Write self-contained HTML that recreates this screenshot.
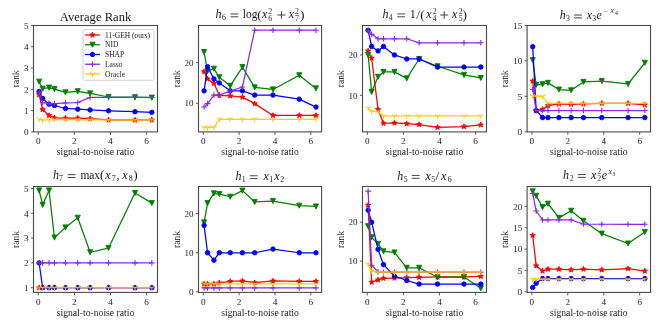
<!DOCTYPE html><html><head><meta charset="utf-8"><style>html,body{margin:0;padding:0;background:#fff;width:664px;height:332px;overflow:hidden}svg{display:block;will-change:transform;font-family:"Liberation Serif",serif;fill:#000}text{stroke:#fff;stroke-width:.06px}</style></head><body><svg width="664" height="332" viewBox="0 0 664 332"><rect width="664" height="332" fill="#fff"/><g><g><path d="M39.13 94.66 L42.64 109.56 L49.05 115.51 L54.46 117.86 L65.47 118.07 L77.75 118.07 L90.12 118.71 L108.54 119.98 L134.99 119.98 L151.83 119.98" stroke="#ff0000" stroke-width="1.25" fill="none" stroke-linejoin="round"/><polygon points="39.13,91.91 39.81,93.73 41.75,93.81 40.23,95.02 40.75,96.88 39.13,95.81 37.52,96.88 38.03,95.02 36.52,93.81 38.45,93.73" fill="#ff0000" stroke="#ff0000" stroke-width="0.9" stroke-linejoin="miter"/><polygon points="42.64,106.81 43.31,108.62 45.25,108.71 43.73,109.91 44.25,111.78 42.64,110.71 41.02,111.78 41.54,109.91 40.02,108.71 41.96,108.62" fill="#ff0000" stroke="#ff0000" stroke-width="0.9" stroke-linejoin="miter"/><polygon points="49.05,112.76 49.72,114.58 51.66,114.66 50.14,115.87 50.66,117.74 49.05,116.67 47.43,117.74 47.95,115.87 46.43,114.66 48.37,114.58" fill="#ff0000" stroke="#ff0000" stroke-width="0.9" stroke-linejoin="miter"/><polygon points="54.46,115.11 55.14,116.92 57.08,117.01 55.56,118.21 56.08,120.08 54.46,119.01 52.85,120.08 53.36,118.21 51.85,117.01 53.78,116.92" fill="#ff0000" stroke="#ff0000" stroke-width="0.9" stroke-linejoin="miter"/><polygon points="65.47,115.32 66.15,117.13 68.09,117.22 66.57,118.42 67.09,120.29 65.47,119.22 63.86,120.29 64.38,118.42 62.86,117.22 64.8,117.13" fill="#ff0000" stroke="#ff0000" stroke-width="0.9" stroke-linejoin="miter"/><polygon points="77.75,115.32 78.43,117.13 80.37,117.22 78.85,118.42 79.37,120.29 77.75,119.22 76.14,120.29 76.65,118.42 75.14,117.22 77.07,117.13" fill="#ff0000" stroke="#ff0000" stroke-width="0.9" stroke-linejoin="miter"/><polygon points="90.12,115.96 90.8,117.77 92.74,117.86 91.22,119.06 91.74,120.93 90.12,119.86 88.5,120.93 89.02,119.06 87.5,117.86 89.44,117.77" fill="#ff0000" stroke="#ff0000" stroke-width="0.9" stroke-linejoin="miter"/><polygon points="108.54,117.23 109.21,119.05 111.15,119.13 109.63,120.34 110.15,122.21 108.54,121.14 106.92,122.21 107.44,120.34 105.92,119.13 107.86,119.05" fill="#ff0000" stroke="#ff0000" stroke-width="0.9" stroke-linejoin="miter"/><polygon points="134.99,117.23 135.66,119.05 137.6,119.13 136.08,120.34 136.6,122.21 134.99,121.14 133.37,122.21 133.89,120.34 132.37,119.13 134.31,119.05" fill="#ff0000" stroke="#ff0000" stroke-width="0.9" stroke-linejoin="miter"/><polygon points="151.83,117.23 152.51,119.05 154.45,119.13 152.93,120.34 153.45,122.21 151.83,121.14 150.21,122.21 150.73,120.34 149.22,119.13 151.15,119.05" fill="#ff0000" stroke="#ff0000" stroke-width="0.9" stroke-linejoin="miter"/></g><g><path d="M39.13 81.68 L42.64 88.7 L49.05 87.64 L54.46 89.13 L65.47 92.32 L77.75 91.26 L90.12 93.38 L108.54 97 L134.99 97.21 L151.83 97.64" stroke="#008000" stroke-width="1.25" fill="none" stroke-linejoin="round"/><path d="M36.58 79.13H41.68L39.13 84.23Z" fill="#008000" stroke="#008000" stroke-width="0.9" stroke-linejoin="miter"/><path d="M40.09 86.15H45.19L42.64 91.25Z" fill="#008000" stroke="#008000" stroke-width="0.9" stroke-linejoin="miter"/><path d="M46.5 85.09H51.6L49.05 90.19Z" fill="#008000" stroke="#008000" stroke-width="0.9" stroke-linejoin="miter"/><path d="M51.91 86.58H57.01L54.46 91.68Z" fill="#008000" stroke="#008000" stroke-width="0.9" stroke-linejoin="miter"/><path d="M62.92 89.77H68.02L65.47 94.87Z" fill="#008000" stroke="#008000" stroke-width="0.9" stroke-linejoin="miter"/><path d="M75.2 88.71H80.3L77.75 93.81Z" fill="#008000" stroke="#008000" stroke-width="0.9" stroke-linejoin="miter"/><path d="M87.57 90.83H92.67L90.12 95.93Z" fill="#008000" stroke="#008000" stroke-width="0.9" stroke-linejoin="miter"/><path d="M105.99 94.45H111.09L108.54 99.55Z" fill="#008000" stroke="#008000" stroke-width="0.9" stroke-linejoin="miter"/><path d="M132.44 94.66H137.54L134.99 99.76Z" fill="#008000" stroke="#008000" stroke-width="0.9" stroke-linejoin="miter"/><path d="M149.28 95.09H154.38L151.83 100.19Z" fill="#008000" stroke="#008000" stroke-width="0.9" stroke-linejoin="miter"/></g><g><path d="M39.13 91.47 L42.64 98.49 L49.05 104.24 L54.46 105.51 L65.47 108.49 L77.75 109.13 L90.12 109.98 L108.54 110.83 L134.99 111.68 L151.83 112.32" stroke="#0000ff" stroke-width="1.25" fill="none" stroke-linejoin="round"/><circle cx="39.13" cy="91.47" r="2.25" fill="#0000ff" stroke="#0000ff" stroke-width="0.9"/><circle cx="42.64" cy="98.49" r="2.25" fill="#0000ff" stroke="#0000ff" stroke-width="0.9"/><circle cx="49.05" cy="104.24" r="2.25" fill="#0000ff" stroke="#0000ff" stroke-width="0.9"/><circle cx="54.46" cy="105.51" r="2.25" fill="#0000ff" stroke="#0000ff" stroke-width="0.9"/><circle cx="65.47" cy="108.49" r="2.25" fill="#0000ff" stroke="#0000ff" stroke-width="0.9"/><circle cx="77.75" cy="109.13" r="2.25" fill="#0000ff" stroke="#0000ff" stroke-width="0.9"/><circle cx="90.12" cy="109.98" r="2.25" fill="#0000ff" stroke="#0000ff" stroke-width="0.9"/><circle cx="108.54" cy="110.83" r="2.25" fill="#0000ff" stroke="#0000ff" stroke-width="0.9"/><circle cx="134.99" cy="111.68" r="2.25" fill="#0000ff" stroke="#0000ff" stroke-width="0.9"/><circle cx="151.83" cy="112.32" r="2.25" fill="#0000ff" stroke="#0000ff" stroke-width="0.9"/></g><g><path d="M39.13 92.11 L42.64 102.53 L49.05 103.6 L54.46 103.6 L65.47 102.96 L77.75 102.53 L90.12 97.43 L108.54 97.43 L134.99 97.43 L151.83 97.43" stroke="#8a2be2" stroke-width="1.25" fill="none" stroke-linejoin="round"/><path d="M36.33 92.11H41.93M39.13 89.31V94.91" stroke="#8a2be2" stroke-width="1.1" fill="none"/><path d="M39.84 102.53H45.44M42.64 99.73V105.33" stroke="#8a2be2" stroke-width="1.1" fill="none"/><path d="M46.25 103.6H51.85M49.05 100.8V106.4" stroke="#8a2be2" stroke-width="1.1" fill="none"/><path d="M51.66 103.6H57.26M54.46 100.8V106.4" stroke="#8a2be2" stroke-width="1.1" fill="none"/><path d="M62.67 102.96H68.27M65.47 100.16V105.76" stroke="#8a2be2" stroke-width="1.1" fill="none"/><path d="M74.95 102.53H80.55M77.75 99.73V105.33" stroke="#8a2be2" stroke-width="1.1" fill="none"/><path d="M87.32 97.43H92.92M90.12 94.63V100.23" stroke="#8a2be2" stroke-width="1.1" fill="none"/><path d="M105.74 97.43H111.34M108.54 94.63V100.23" stroke="#8a2be2" stroke-width="1.1" fill="none"/><path d="M132.19 97.43H137.79M134.99 94.63V100.23" stroke="#8a2be2" stroke-width="1.1" fill="none"/><path d="M149.03 97.43H154.63M151.83 94.63V100.23" stroke="#8a2be2" stroke-width="1.1" fill="none"/></g><g opacity="0.9"><path d="M39.13 119.13 L42.64 120.2 L49.05 119.98 L54.46 119.56 L65.47 119.56 L77.75 119.56 L90.12 119.77 L108.54 119.98 L134.99 119.98 L151.83 119.98" stroke="#ffc800" stroke-width="1.25" fill="none" stroke-linejoin="round"/><path d="M39.13 119.13V122.13M39.13 119.13L36.54 117.63M39.13 119.13L41.73 117.63" stroke="#ffc800" stroke-width="1.1" fill="none"/><path d="M42.64 120.2V123.2M42.64 120.2L40.04 118.7M42.64 120.2L45.23 118.7" stroke="#ffc800" stroke-width="1.1" fill="none"/><path d="M49.05 119.98V122.98M49.05 119.98L46.45 118.48M49.05 119.98L51.64 118.48" stroke="#ffc800" stroke-width="1.1" fill="none"/><path d="M54.46 119.56V122.56M54.46 119.56L51.86 118.06M54.46 119.56L57.06 118.06" stroke="#ffc800" stroke-width="1.1" fill="none"/><path d="M65.47 119.56V122.56M65.47 119.56L62.88 118.06M65.47 119.56L68.07 118.06" stroke="#ffc800" stroke-width="1.1" fill="none"/><path d="M77.75 119.56V122.56M77.75 119.56L75.15 118.06M77.75 119.56L80.35 118.06" stroke="#ffc800" stroke-width="1.1" fill="none"/><path d="M90.12 119.77V122.77M90.12 119.77L87.52 118.27M90.12 119.77L92.72 118.27" stroke="#ffc800" stroke-width="1.1" fill="none"/><path d="M108.54 119.98V122.98M108.54 119.98L105.94 118.48M108.54 119.98L111.13 118.48" stroke="#ffc800" stroke-width="1.1" fill="none"/><path d="M134.99 119.98V122.98M134.99 119.98L132.39 118.48M134.99 119.98L137.58 118.48" stroke="#ffc800" stroke-width="1.1" fill="none"/><path d="M151.83 119.98V122.98M151.83 119.98L149.23 118.48M151.83 119.98L154.43 118.48" stroke="#ffc800" stroke-width="1.1" fill="none"/></g></g><rect x="33.5" y="25.5" width="124" height="106.4" fill="none" stroke="#4a4a4a" stroke-width="1.1"/><path d="M38.3 131.9V134.9" stroke="#4a4a4a" stroke-width="0.9"/><text x="38.3" y="144.3" text-anchor="middle" font-size="9.2">0</text><path d="M74.41 131.9V134.9" stroke="#4a4a4a" stroke-width="0.9"/><text x="74.41" y="144.3" text-anchor="middle" font-size="9.2">2</text><path d="M110.52 131.9V134.9" stroke="#4a4a4a" stroke-width="0.9"/><text x="110.52" y="144.3" text-anchor="middle" font-size="9.2">4</text><path d="M146.63 131.9V134.9" stroke="#4a4a4a" stroke-width="0.9"/><text x="146.63" y="144.3" text-anchor="middle" font-size="9.2">6</text><path d="M33.5 131.9H30.9" stroke="#4a4a4a" stroke-width="0.9"/><text x="28.6" y="135.1" text-anchor="end" font-size="9.2">0</text><path d="M33.5 110.62H30.9" stroke="#4a4a4a" stroke-width="0.9"/><text x="28.6" y="113.82" text-anchor="end" font-size="9.2">1</text><path d="M33.5 89.34H30.9" stroke="#4a4a4a" stroke-width="0.9"/><text x="28.6" y="92.54" text-anchor="end" font-size="9.2">2</text><path d="M33.5 68.06H30.9" stroke="#4a4a4a" stroke-width="0.9"/><text x="28.6" y="71.26" text-anchor="end" font-size="9.2">3</text><path d="M33.5 46.78H30.9" stroke="#4a4a4a" stroke-width="0.9"/><text x="28.6" y="49.98" text-anchor="end" font-size="9.2">4</text><path d="M33.5 25.5H30.9" stroke="#4a4a4a" stroke-width="0.9"/><text x="28.6" y="28.7" text-anchor="end" font-size="9.2">5</text><text x="95.5" y="155" text-anchor="middle" font-size="9.3" textLength="77.6" lengthAdjust="spacingAndGlyphs">signal-to-noise ratio</text><text transform="translate(19.3 78.7) rotate(-90)" text-anchor="middle" font-size="9.5" textLength="17" lengthAdjust="spacingAndGlyphs">rank</text><text x="95.5" y="21" text-anchor="middle" font-size="12.2" textLength="71.5" lengthAdjust="spacingAndGlyphs">Average Rank</text><g><g><path d="M204.09 71.58 L207.57 78.89 L213.93 83.35 L219.31 95.32 L230.24 95.93 L242.43 97.15 L254.71 103.65 L272.99 115.42 L299.25 115.42 L315.97 115.42" stroke="#ff0000" stroke-width="1.25" fill="none" stroke-linejoin="round"/><polygon points="204.09,68.83 204.77,70.65 206.71,70.73 205.19,71.94 205.71,73.8 204.09,72.73 202.48,73.8 202.99,71.94 201.48,70.73 203.41,70.65" fill="#ff0000" stroke="#ff0000" stroke-width="0.9" stroke-linejoin="miter"/><polygon points="207.57,76.14 208.25,77.95 210.18,78.04 208.67,79.24 209.19,81.11 207.57,80.04 205.95,81.11 206.47,79.24 204.95,78.04 206.89,77.95" fill="#ff0000" stroke="#ff0000" stroke-width="0.9" stroke-linejoin="miter"/><polygon points="213.93,80.6 214.61,82.42 216.55,82.5 215.03,83.71 215.55,85.58 213.93,84.51 212.32,85.58 212.83,83.71 211.32,82.5 213.25,82.42" fill="#ff0000" stroke="#ff0000" stroke-width="0.9" stroke-linejoin="miter"/><polygon points="219.31,92.57 219.99,94.39 221.92,94.48 220.41,95.68 220.93,97.55 219.31,96.48 217.69,97.55 218.21,95.68 216.69,94.48 218.63,94.39" fill="#ff0000" stroke="#ff0000" stroke-width="0.9" stroke-linejoin="miter"/><polygon points="230.24,93.18 230.92,95 232.86,95.08 231.34,96.29 231.86,98.16 230.24,97.09 228.63,98.16 229.14,96.29 227.63,95.08 229.56,95" fill="#ff0000" stroke="#ff0000" stroke-width="0.9" stroke-linejoin="miter"/><polygon points="242.43,94.4 243.11,96.22 245.05,96.3 243.53,97.51 244.05,99.38 242.43,98.31 240.81,99.38 241.33,97.51 239.82,96.3 241.75,96.22" fill="#ff0000" stroke="#ff0000" stroke-width="0.9" stroke-linejoin="miter"/><polygon points="254.71,100.9 255.39,102.71 257.32,102.8 255.81,104 256.33,105.87 254.71,104.8 253.09,105.87 253.61,104 252.09,102.8 254.03,102.71" fill="#ff0000" stroke="#ff0000" stroke-width="0.9" stroke-linejoin="miter"/><polygon points="272.99,112.67 273.67,114.48 275.61,114.57 274.09,115.77 274.61,117.64 272.99,116.57 271.37,117.64 271.89,115.77 270.38,114.57 272.31,114.48" fill="#ff0000" stroke="#ff0000" stroke-width="0.9" stroke-linejoin="miter"/><polygon points="299.25,112.67 299.93,114.48 301.86,114.57 300.35,115.77 300.87,117.64 299.25,116.57 297.63,117.64 298.15,115.77 296.63,114.57 298.57,114.48" fill="#ff0000" stroke="#ff0000" stroke-width="0.9" stroke-linejoin="miter"/><polygon points="315.97,112.67 316.65,114.48 318.59,114.57 317.07,115.77 317.59,117.64 315.97,116.57 314.36,117.64 314.87,115.77 313.36,114.57 315.29,114.48" fill="#ff0000" stroke="#ff0000" stroke-width="0.9" stroke-linejoin="miter"/></g><g><path d="M204.09 52.1 L207.57 71.17 L213.93 68.74 L219.31 77.26 L230.24 85.79 L242.43 67.11 L254.71 87.41 L272.99 89.44 L299.25 75.23 L315.97 88.42" stroke="#008000" stroke-width="1.25" fill="none" stroke-linejoin="round"/><path d="M201.54 49.55H206.64L204.09 54.65Z" fill="#008000" stroke="#008000" stroke-width="0.9" stroke-linejoin="miter"/><path d="M205.02 68.62H210.12L207.57 73.72Z" fill="#008000" stroke="#008000" stroke-width="0.9" stroke-linejoin="miter"/><path d="M211.38 66.19H216.48L213.93 71.29Z" fill="#008000" stroke="#008000" stroke-width="0.9" stroke-linejoin="miter"/><path d="M216.76 74.71H221.86L219.31 79.81Z" fill="#008000" stroke="#008000" stroke-width="0.9" stroke-linejoin="miter"/><path d="M227.69 83.24H232.79L230.24 88.34Z" fill="#008000" stroke="#008000" stroke-width="0.9" stroke-linejoin="miter"/><path d="M239.88 64.56H244.98L242.43 69.66Z" fill="#008000" stroke="#008000" stroke-width="0.9" stroke-linejoin="miter"/><path d="M252.16 84.86H257.26L254.71 89.96Z" fill="#008000" stroke="#008000" stroke-width="0.9" stroke-linejoin="miter"/><path d="M270.44 86.89H275.54L272.99 91.99Z" fill="#008000" stroke="#008000" stroke-width="0.9" stroke-linejoin="miter"/><path d="M296.7 72.68H301.8L299.25 77.78Z" fill="#008000" stroke="#008000" stroke-width="0.9" stroke-linejoin="miter"/><path d="M313.42 85.87H318.52L315.97 90.97Z" fill="#008000" stroke="#008000" stroke-width="0.9" stroke-linejoin="miter"/></g><g><path d="M204.09 90.86 L207.57 66.71 L213.93 78.89 L219.31 82.94 L230.24 90.86 L242.43 90.86 L254.71 95.12 L272.99 95.12 L299.25 99.18 L315.97 107.06" stroke="#0000ff" stroke-width="1.25" fill="none" stroke-linejoin="round"/><circle cx="204.09" cy="90.86" r="2.25" fill="#0000ff" stroke="#0000ff" stroke-width="0.9"/><circle cx="207.57" cy="66.71" r="2.25" fill="#0000ff" stroke="#0000ff" stroke-width="0.9"/><circle cx="213.93" cy="78.89" r="2.25" fill="#0000ff" stroke="#0000ff" stroke-width="0.9"/><circle cx="219.31" cy="82.94" r="2.25" fill="#0000ff" stroke="#0000ff" stroke-width="0.9"/><circle cx="230.24" cy="90.86" r="2.25" fill="#0000ff" stroke="#0000ff" stroke-width="0.9"/><circle cx="242.43" cy="90.86" r="2.25" fill="#0000ff" stroke="#0000ff" stroke-width="0.9"/><circle cx="254.71" cy="95.12" r="2.25" fill="#0000ff" stroke="#0000ff" stroke-width="0.9"/><circle cx="272.99" cy="95.12" r="2.25" fill="#0000ff" stroke="#0000ff" stroke-width="0.9"/><circle cx="299.25" cy="99.18" r="2.25" fill="#0000ff" stroke="#0000ff" stroke-width="0.9"/><circle cx="315.97" cy="107.06" r="2.25" fill="#0000ff" stroke="#0000ff" stroke-width="0.9"/></g><g><path d="M204.09 107.06 L207.57 103.65 L213.93 95.12 L219.31 95.12 L230.24 91.06 L242.43 87 L254.71 30.18 L272.99 30.18 L299.25 30.18 L315.97 30.18" stroke="#8a2be2" stroke-width="1.25" fill="none" stroke-linejoin="round"/><path d="M201.29 107.06H206.89M204.09 104.26V109.86" stroke="#8a2be2" stroke-width="1.1" fill="none"/><path d="M204.77 103.65H210.37M207.57 100.85V106.45" stroke="#8a2be2" stroke-width="1.1" fill="none"/><path d="M211.13 95.12H216.73M213.93 92.32V97.92" stroke="#8a2be2" stroke-width="1.1" fill="none"/><path d="M216.51 95.12H222.11M219.31 92.32V97.92" stroke="#8a2be2" stroke-width="1.1" fill="none"/><path d="M227.44 91.06H233.04M230.24 88.26V93.86" stroke="#8a2be2" stroke-width="1.1" fill="none"/><path d="M239.63 87H245.23M242.43 84.2V89.8" stroke="#8a2be2" stroke-width="1.1" fill="none"/><path d="M251.91 30.18H257.51M254.71 27.38V32.98" stroke="#8a2be2" stroke-width="1.1" fill="none"/><path d="M270.19 30.18H275.79M272.99 27.38V32.98" stroke="#8a2be2" stroke-width="1.1" fill="none"/><path d="M296.45 30.18H302.05M299.25 27.38V32.98" stroke="#8a2be2" stroke-width="1.1" fill="none"/><path d="M313.17 30.18H318.77M315.97 27.38V32.98" stroke="#8a2be2" stroke-width="1.1" fill="none"/></g><g opacity="0.9"><path d="M204.09 127.59 L207.57 127.59 L213.93 127.59 L219.31 119.27 L230.24 119.27 L242.43 119.27 L254.71 119.27 L272.99 119.27 L299.25 119.27 L315.97 119.27" stroke="#ffc800" stroke-width="1.25" fill="none" stroke-linejoin="round"/><path d="M204.09 127.59V130.59M204.09 127.59L201.49 126.09M204.09 127.59L206.69 126.09" stroke="#ffc800" stroke-width="1.1" fill="none"/><path d="M207.57 127.59V130.59M207.57 127.59L204.97 126.09M207.57 127.59L210.17 126.09" stroke="#ffc800" stroke-width="1.1" fill="none"/><path d="M213.93 127.59V130.59M213.93 127.59L211.33 126.09M213.93 127.59L216.53 126.09" stroke="#ffc800" stroke-width="1.1" fill="none"/><path d="M219.31 119.27V122.27M219.31 119.27L216.71 117.77M219.31 119.27L221.91 117.77" stroke="#ffc800" stroke-width="1.1" fill="none"/><path d="M230.24 119.27V122.27M230.24 119.27L227.64 117.77M230.24 119.27L232.84 117.77" stroke="#ffc800" stroke-width="1.1" fill="none"/><path d="M242.43 119.27V122.27M242.43 119.27L239.83 117.77M242.43 119.27L245.03 117.77" stroke="#ffc800" stroke-width="1.1" fill="none"/><path d="M254.71 119.27V122.27M254.71 119.27L252.11 117.77M254.71 119.27L257.31 117.77" stroke="#ffc800" stroke-width="1.1" fill="none"/><path d="M272.99 119.27V122.27M272.99 119.27L270.39 117.77M272.99 119.27L275.59 117.77" stroke="#ffc800" stroke-width="1.1" fill="none"/><path d="M299.25 119.27V122.27M299.25 119.27L296.65 117.77M299.25 119.27L301.85 117.77" stroke="#ffc800" stroke-width="1.1" fill="none"/><path d="M315.97 119.27V122.27M315.97 119.27L313.37 117.77M315.97 119.27L318.57 117.77" stroke="#ffc800" stroke-width="1.1" fill="none"/></g></g><rect x="198.5" y="25.5" width="123.1" height="106.4" fill="none" stroke="#4a4a4a" stroke-width="1.1"/><path d="M203.27 131.9V134.9" stroke="#4a4a4a" stroke-width="0.9"/><text x="203.27" y="144.3" text-anchor="middle" font-size="9.2">0</text><path d="M239.12 131.9V134.9" stroke="#4a4a4a" stroke-width="0.9"/><text x="239.12" y="144.3" text-anchor="middle" font-size="9.2">2</text><path d="M274.96 131.9V134.9" stroke="#4a4a4a" stroke-width="0.9"/><text x="274.96" y="144.3" text-anchor="middle" font-size="9.2">4</text><path d="M310.81 131.9V134.9" stroke="#4a4a4a" stroke-width="0.9"/><text x="310.81" y="144.3" text-anchor="middle" font-size="9.2">6</text><path d="M198.5 103.24H195.9" stroke="#4a4a4a" stroke-width="0.9"/><text x="193.6" y="106.44" text-anchor="end" font-size="9.2" textLength="9" lengthAdjust="spacingAndGlyphs">10</text><path d="M198.5 62.65H195.9" stroke="#4a4a4a" stroke-width="0.9"/><text x="193.6" y="65.85" text-anchor="end" font-size="9.2" textLength="9" lengthAdjust="spacingAndGlyphs">20</text><text x="260.05" y="155" text-anchor="middle" font-size="9.3" textLength="77.6" lengthAdjust="spacingAndGlyphs">signal-to-noise ratio</text><text transform="translate(179.5 78.7) rotate(-90)" text-anchor="middle" font-size="9.5" textLength="17" lengthAdjust="spacingAndGlyphs">rank</text><text x="218.6" y="18.1" text-anchor="middle" font-size="12" font-style="italic">h</text><text x="223.9" y="20.2" text-anchor="middle" font-size="7.8">6</text><path d="M230.5 13.95H238.3M230.5 16.8H238.3" stroke="#3a3a3a" stroke-width="0.95" fill="none"/><text x="250.1" y="18.1" text-anchor="middle" font-size="12" textLength="14.6" lengthAdjust="spacingAndGlyphs">log</text><text x="259.5" y="18.7" text-anchor="middle" font-size="13.4">(</text><text x="264.6" y="18.1" text-anchor="middle" font-size="12" font-style="italic">x</text><text x="270.3" y="14" text-anchor="middle" font-size="7.8">2</text><text x="270.3" y="21" text-anchor="middle" font-size="7.8">6</text><path d="M277.4 15H285.4M281.4 11.2V18.8" stroke="#3a3a3a" stroke-width="0.95" fill="none"/><text x="291.5" y="18.1" text-anchor="middle" font-size="12" font-style="italic">x</text><text x="297" y="14" text-anchor="middle" font-size="7.8">2</text><text x="297" y="21" text-anchor="middle" font-size="7.8">7</text><text x="302.2" y="18.7" text-anchor="middle" font-size="13.4">)</text><g><g><path d="M368.13 50.9 L371.64 58.17 L378.05 109.51 L383.46 123.25 L394.47 122.97 L406.75 123.65 L419.12 124.54 L437.54 127.29 L463.99 126.56 L480.83 124.87" stroke="#ff0000" stroke-width="1.25" fill="none" stroke-linejoin="round"/><polygon points="368.13,48.15 368.81,49.96 370.75,50.05 369.23,51.25 369.75,53.12 368.13,52.05 366.52,53.12 367.03,51.25 365.52,50.05 367.45,49.96" fill="#ff0000" stroke="#ff0000" stroke-width="0.9" stroke-linejoin="miter"/><polygon points="371.64,55.42 372.31,57.24 374.25,57.32 372.73,58.53 373.25,60.4 371.64,59.33 370.02,60.4 370.54,58.53 369.02,57.32 370.96,57.24" fill="#ff0000" stroke="#ff0000" stroke-width="0.9" stroke-linejoin="miter"/><polygon points="378.05,106.76 378.72,108.57 380.66,108.66 379.14,109.86 379.66,111.73 378.05,110.66 376.43,111.73 376.95,109.86 375.43,108.66 377.37,108.57" fill="#ff0000" stroke="#ff0000" stroke-width="0.9" stroke-linejoin="miter"/><polygon points="383.46,120.5 384.14,122.32 386.08,122.4 384.56,123.61 385.08,125.47 383.46,124.4 381.85,125.47 382.36,123.61 380.85,122.4 382.78,122.32" fill="#ff0000" stroke="#ff0000" stroke-width="0.9" stroke-linejoin="miter"/><polygon points="394.47,120.22 395.15,122.03 397.09,122.12 395.57,123.32 396.09,125.19 394.47,124.12 392.86,125.19 393.38,123.32 391.86,122.12 393.8,122.03" fill="#ff0000" stroke="#ff0000" stroke-width="0.9" stroke-linejoin="miter"/><polygon points="406.75,120.9 407.43,122.72 409.37,122.8 407.85,124.01 408.37,125.88 406.75,124.81 405.14,125.88 405.65,124.01 404.14,122.8 406.07,122.72" fill="#ff0000" stroke="#ff0000" stroke-width="0.9" stroke-linejoin="miter"/><polygon points="419.12,121.79 419.8,123.61 421.74,123.69 420.22,124.9 420.74,126.77 419.12,125.7 417.5,126.77 418.02,124.9 416.5,123.69 418.44,123.61" fill="#ff0000" stroke="#ff0000" stroke-width="0.9" stroke-linejoin="miter"/><polygon points="437.54,124.54 438.21,126.36 440.15,126.44 438.63,127.65 439.15,129.52 437.54,128.45 435.92,129.52 436.44,127.65 434.92,126.44 436.86,126.36" fill="#ff0000" stroke="#ff0000" stroke-width="0.9" stroke-linejoin="miter"/><polygon points="463.99,123.81 464.66,125.63 466.6,125.71 465.08,126.92 465.6,128.79 463.99,127.72 462.37,128.79 462.89,126.92 461.37,125.71 463.31,125.63" fill="#ff0000" stroke="#ff0000" stroke-width="0.9" stroke-linejoin="miter"/><polygon points="480.83,122.12 481.51,123.93 483.45,124.02 481.93,125.22 482.45,127.09 480.83,126.02 479.21,127.09 479.73,125.22 478.22,124.02 480.15,123.93" fill="#ff0000" stroke="#ff0000" stroke-width="0.9" stroke-linejoin="miter"/></g><g><path d="M368.13 54.94 L371.64 91.92 L378.05 76.77 L383.46 71.92 L394.47 71.92 L406.75 78.38 L419.12 58.98 L437.54 66.26 L463.99 74.95 L480.83 77.98" stroke="#008000" stroke-width="1.25" fill="none" stroke-linejoin="round"/><path d="M365.58 52.39H370.68L368.13 57.49Z" fill="#008000" stroke="#008000" stroke-width="0.9" stroke-linejoin="miter"/><path d="M369.09 89.37H374.19L371.64 94.47Z" fill="#008000" stroke="#008000" stroke-width="0.9" stroke-linejoin="miter"/><path d="M375.5 74.22H380.6L378.05 79.32Z" fill="#008000" stroke="#008000" stroke-width="0.9" stroke-linejoin="miter"/><path d="M380.91 69.37H386.01L383.46 74.47Z" fill="#008000" stroke="#008000" stroke-width="0.9" stroke-linejoin="miter"/><path d="M391.92 69.37H397.02L394.47 74.47Z" fill="#008000" stroke="#008000" stroke-width="0.9" stroke-linejoin="miter"/><path d="M404.2 75.83H409.3L406.75 80.93Z" fill="#008000" stroke="#008000" stroke-width="0.9" stroke-linejoin="miter"/><path d="M416.57 56.43H421.67L419.12 61.53Z" fill="#008000" stroke="#008000" stroke-width="0.9" stroke-linejoin="miter"/><path d="M434.99 63.71H440.09L437.54 68.81Z" fill="#008000" stroke="#008000" stroke-width="0.9" stroke-linejoin="miter"/><path d="M461.44 72.4H466.54L463.99 77.5Z" fill="#008000" stroke="#008000" stroke-width="0.9" stroke-linejoin="miter"/><path d="M478.28 75.43H483.38L480.83 80.53Z" fill="#008000" stroke="#008000" stroke-width="0.9" stroke-linejoin="miter"/></g><g><path d="M368.13 30.28 L371.64 46.45 L378.05 50.9 L383.46 46.45 L394.47 54.94 L406.75 58.98 L419.12 58.98 L437.54 67.07 L463.99 67.07 L480.83 67.07" stroke="#0000ff" stroke-width="1.25" fill="none" stroke-linejoin="round"/><circle cx="368.13" cy="30.28" r="2.25" fill="#0000ff" stroke="#0000ff" stroke-width="0.9"/><circle cx="371.64" cy="46.45" r="2.25" fill="#0000ff" stroke="#0000ff" stroke-width="0.9"/><circle cx="378.05" cy="50.9" r="2.25" fill="#0000ff" stroke="#0000ff" stroke-width="0.9"/><circle cx="383.46" cy="46.45" r="2.25" fill="#0000ff" stroke="#0000ff" stroke-width="0.9"/><circle cx="394.47" cy="54.94" r="2.25" fill="#0000ff" stroke="#0000ff" stroke-width="0.9"/><circle cx="406.75" cy="58.98" r="2.25" fill="#0000ff" stroke="#0000ff" stroke-width="0.9"/><circle cx="419.12" cy="58.98" r="2.25" fill="#0000ff" stroke="#0000ff" stroke-width="0.9"/><circle cx="437.54" cy="67.07" r="2.25" fill="#0000ff" stroke="#0000ff" stroke-width="0.9"/><circle cx="463.99" cy="67.07" r="2.25" fill="#0000ff" stroke="#0000ff" stroke-width="0.9"/><circle cx="480.83" cy="67.07" r="2.25" fill="#0000ff" stroke="#0000ff" stroke-width="0.9"/></g><g><path d="M368.13 30.69 L371.64 34.33 L378.05 38.77 L383.46 38.77 L394.47 38.77 L406.75 38.77 L419.12 42.81 L437.54 42.81 L463.99 42.81 L480.83 42.81" stroke="#8a2be2" stroke-width="1.25" fill="none" stroke-linejoin="round"/><path d="M365.33 30.69H370.93M368.13 27.89V33.49" stroke="#8a2be2" stroke-width="1.1" fill="none"/><path d="M368.84 34.33H374.44M371.64 31.53V37.13" stroke="#8a2be2" stroke-width="1.1" fill="none"/><path d="M375.25 38.77H380.85M378.05 35.97V41.57" stroke="#8a2be2" stroke-width="1.1" fill="none"/><path d="M380.66 38.77H386.26M383.46 35.97V41.57" stroke="#8a2be2" stroke-width="1.1" fill="none"/><path d="M391.67 38.77H397.27M394.47 35.97V41.57" stroke="#8a2be2" stroke-width="1.1" fill="none"/><path d="M403.95 38.77H409.55M406.75 35.97V41.57" stroke="#8a2be2" stroke-width="1.1" fill="none"/><path d="M416.32 42.81H421.92M419.12 40.01V45.61" stroke="#8a2be2" stroke-width="1.1" fill="none"/><path d="M434.74 42.81H440.34M437.54 40.01V45.61" stroke="#8a2be2" stroke-width="1.1" fill="none"/><path d="M461.19 42.81H466.79M463.99 40.01V45.61" stroke="#8a2be2" stroke-width="1.1" fill="none"/><path d="M478.03 42.81H483.63M480.83 40.01V45.61" stroke="#8a2be2" stroke-width="1.1" fill="none"/></g><g opacity="0.9"><path d="M368.13 107.89 L371.64 111.53 L378.05 111.53 L383.46 115.97 L394.47 115.97 L406.75 115.97 L419.12 115.97 L437.54 115.97 L463.99 115.97 L480.83 115.97" stroke="#ffc800" stroke-width="1.25" fill="none" stroke-linejoin="round"/><path d="M368.13 107.89V110.89M368.13 107.89L365.54 106.39M368.13 107.89L370.73 106.39" stroke="#ffc800" stroke-width="1.1" fill="none"/><path d="M371.64 111.53V114.53M371.64 111.53L369.04 110.03M371.64 111.53L374.23 110.03" stroke="#ffc800" stroke-width="1.1" fill="none"/><path d="M378.05 111.53V114.53M378.05 111.53L375.45 110.03M378.05 111.53L380.64 110.03" stroke="#ffc800" stroke-width="1.1" fill="none"/><path d="M383.46 115.97V118.97M383.46 115.97L380.86 114.47M383.46 115.97L386.06 114.47" stroke="#ffc800" stroke-width="1.1" fill="none"/><path d="M394.47 115.97V118.97M394.47 115.97L391.88 114.47M394.47 115.97L397.07 114.47" stroke="#ffc800" stroke-width="1.1" fill="none"/><path d="M406.75 115.97V118.97M406.75 115.97L404.15 114.47M406.75 115.97L409.35 114.47" stroke="#ffc800" stroke-width="1.1" fill="none"/><path d="M419.12 115.97V118.97M419.12 115.97L416.52 114.47M419.12 115.97L421.72 114.47" stroke="#ffc800" stroke-width="1.1" fill="none"/><path d="M437.54 115.97V118.97M437.54 115.97L434.94 114.47M437.54 115.97L440.13 114.47" stroke="#ffc800" stroke-width="1.1" fill="none"/><path d="M463.99 115.97V118.97M463.99 115.97L461.39 114.47M463.99 115.97L466.58 114.47" stroke="#ffc800" stroke-width="1.1" fill="none"/><path d="M480.83 115.97V118.97M480.83 115.97L478.23 114.47M480.83 115.97L483.43 114.47" stroke="#ffc800" stroke-width="1.1" fill="none"/></g></g><rect x="362.5" y="25.5" width="124" height="106.4" fill="none" stroke="#4a4a4a" stroke-width="1.1"/><path d="M367.3 131.9V134.9" stroke="#4a4a4a" stroke-width="0.9"/><text x="367.3" y="144.3" text-anchor="middle" font-size="9.2">0</text><path d="M403.41 131.9V134.9" stroke="#4a4a4a" stroke-width="0.9"/><text x="403.41" y="144.3" text-anchor="middle" font-size="9.2">2</text><path d="M439.52 131.9V134.9" stroke="#4a4a4a" stroke-width="0.9"/><text x="439.52" y="144.3" text-anchor="middle" font-size="9.2">4</text><path d="M475.63 131.9V134.9" stroke="#4a4a4a" stroke-width="0.9"/><text x="475.63" y="144.3" text-anchor="middle" font-size="9.2">6</text><path d="M362.5 95.36H359.9" stroke="#4a4a4a" stroke-width="0.9"/><text x="357.6" y="98.56" text-anchor="end" font-size="9.2" textLength="9" lengthAdjust="spacingAndGlyphs">10</text><path d="M362.5 54.94H359.9" stroke="#4a4a4a" stroke-width="0.9"/><text x="357.6" y="58.14" text-anchor="end" font-size="9.2" textLength="9" lengthAdjust="spacingAndGlyphs">20</text><text x="424.5" y="155" text-anchor="middle" font-size="9.3" textLength="77.6" lengthAdjust="spacingAndGlyphs">signal-to-noise ratio</text><text transform="translate(343.5 78.7) rotate(-90)" text-anchor="middle" font-size="9.5" textLength="17" lengthAdjust="spacingAndGlyphs">rank</text><text x="385.4" y="18.1" text-anchor="middle" font-size="12" font-style="italic">h</text><text x="390.7" y="20.2" text-anchor="middle" font-size="7.8">4</text><path d="M397.3 13.95H405.1M397.3 16.8H405.1" stroke="#3a3a3a" stroke-width="0.95" fill="none"/><text x="412.8" y="18.1" text-anchor="middle" font-size="12">1</text><text x="418" y="18.7" text-anchor="middle" font-size="13.4">/</text><text x="422.4" y="18.7" text-anchor="middle" font-size="13.4">(</text><text x="428.8" y="18.1" text-anchor="middle" font-size="12" font-style="italic">x</text><text x="434.8" y="14" text-anchor="middle" font-size="7.8">2</text><text x="434.8" y="21" text-anchor="middle" font-size="7.8">4</text><path d="M440.2 15H448.2M444.2 11.2V18.8" stroke="#3a3a3a" stroke-width="0.95" fill="none"/><text x="454.6" y="18.1" text-anchor="middle" font-size="12" font-style="italic">x</text><text x="460.6" y="14" text-anchor="middle" font-size="7.8">2</text><text x="460.6" y="21" text-anchor="middle" font-size="7.8">5</text><text x="464.8" y="18.7" text-anchor="middle" font-size="13.4">)</text><g><g><path d="M532.71 81.08 L536.19 110.52 L542.57 109.31 L547.96 105.7 L558.92 103.99 L571.14 104.42 L583.45 103.99 L601.77 103.28 L628.09 103.28 L644.86 104.99" stroke="#ff0000" stroke-width="1.25" fill="none" stroke-linejoin="round"/><polygon points="532.71,78.33 533.38,80.15 535.32,80.23 533.8,81.44 534.32,83.31 532.71,82.24 531.09,83.31 531.61,81.44 530.09,80.23 532.03,80.15" fill="#ff0000" stroke="#ff0000" stroke-width="0.9" stroke-linejoin="miter"/><polygon points="536.19,107.77 536.87,109.59 538.81,109.67 537.29,110.88 537.81,112.74 536.19,111.68 534.58,112.74 535.09,110.88 533.58,109.67 535.51,109.59" fill="#ff0000" stroke="#ff0000" stroke-width="0.9" stroke-linejoin="miter"/><polygon points="542.57,106.56 543.25,108.38 545.19,108.46 543.67,109.67 544.19,111.54 542.57,110.47 540.95,111.54 541.47,109.67 539.95,108.46 541.89,108.38" fill="#ff0000" stroke="#ff0000" stroke-width="0.9" stroke-linejoin="miter"/><polygon points="547.96,102.95 548.64,104.76 550.58,104.85 549.06,106.05 549.58,107.92 547.96,106.85 546.34,107.92 546.86,106.05 545.34,104.85 547.28,104.76" fill="#ff0000" stroke="#ff0000" stroke-width="0.9" stroke-linejoin="miter"/><polygon points="558.92,101.24 559.6,103.06 561.54,103.14 560.02,104.35 560.54,106.22 558.92,105.15 557.3,106.22 557.82,104.35 556.3,103.14 558.24,103.06" fill="#ff0000" stroke="#ff0000" stroke-width="0.9" stroke-linejoin="miter"/><polygon points="571.14,101.67 571.82,103.49 573.75,103.57 572.24,104.78 572.75,106.64 571.14,105.57 569.52,106.64 570.04,104.78 568.52,103.57 570.46,103.49" fill="#ff0000" stroke="#ff0000" stroke-width="0.9" stroke-linejoin="miter"/><polygon points="583.45,101.24 584.12,103.06 586.06,103.14 584.54,104.35 585.06,106.22 583.45,105.15 581.83,106.22 582.35,104.35 580.83,103.14 582.77,103.06" fill="#ff0000" stroke="#ff0000" stroke-width="0.9" stroke-linejoin="miter"/><polygon points="601.77,100.53 602.45,102.35 604.39,102.44 602.87,103.64 603.39,105.51 601.77,104.44 600.16,105.51 600.67,103.64 599.16,102.44 601.09,102.35" fill="#ff0000" stroke="#ff0000" stroke-width="0.9" stroke-linejoin="miter"/><polygon points="628.09,100.53 628.77,102.35 630.71,102.44 629.19,103.64 629.71,105.51 628.09,104.44 626.48,105.51 627,103.64 625.48,102.44 627.42,102.35" fill="#ff0000" stroke="#ff0000" stroke-width="0.9" stroke-linejoin="miter"/><polygon points="644.86,102.24 645.54,104.05 647.47,104.14 645.96,105.34 646.47,107.21 644.86,106.14 643.24,107.21 643.76,105.34 642.24,104.14 644.18,104.05" fill="#ff0000" stroke="#ff0000" stroke-width="0.9" stroke-linejoin="miter"/></g><g><path d="M532.71 60.16 L536.19 84.84 L542.57 84.27 L547.96 82.86 L558.92 89.59 L571.14 90.3 L583.45 81.93 L601.77 81.15 L628.09 83.99 L644.86 62.78" stroke="#008000" stroke-width="1.25" fill="none" stroke-linejoin="round"/><path d="M530.16 57.61H535.26L532.71 62.71Z" fill="#008000" stroke="#008000" stroke-width="0.9" stroke-linejoin="miter"/><path d="M533.64 82.29H538.74L536.19 87.39Z" fill="#008000" stroke="#008000" stroke-width="0.9" stroke-linejoin="miter"/><path d="M540.02 81.72H545.12L542.57 86.82Z" fill="#008000" stroke="#008000" stroke-width="0.9" stroke-linejoin="miter"/><path d="M545.41 80.31H550.51L547.96 85.41Z" fill="#008000" stroke="#008000" stroke-width="0.9" stroke-linejoin="miter"/><path d="M556.37 87.04H561.47L558.92 92.14Z" fill="#008000" stroke="#008000" stroke-width="0.9" stroke-linejoin="miter"/><path d="M568.59 87.75H573.69L571.14 92.85Z" fill="#008000" stroke="#008000" stroke-width="0.9" stroke-linejoin="miter"/><path d="M580.9 79.38H586L583.45 84.48Z" fill="#008000" stroke="#008000" stroke-width="0.9" stroke-linejoin="miter"/><path d="M599.22 78.6H604.32L601.77 83.7Z" fill="#008000" stroke="#008000" stroke-width="0.9" stroke-linejoin="miter"/><path d="M625.54 81.44H630.64L628.09 86.54Z" fill="#008000" stroke="#008000" stroke-width="0.9" stroke-linejoin="miter"/><path d="M642.31 60.23H647.41L644.86 65.33Z" fill="#008000" stroke="#008000" stroke-width="0.9" stroke-linejoin="miter"/></g><g><path d="M532.71 46.68 L536.19 110.52 L542.57 117.61 L547.96 117.61 L558.92 117.61 L571.14 117.61 L583.45 117.61 L601.77 117.61 L628.09 117.61 L644.86 117.61" stroke="#0000ff" stroke-width="1.25" fill="none" stroke-linejoin="round"/><circle cx="532.71" cy="46.68" r="2.25" fill="#0000ff" stroke="#0000ff" stroke-width="0.9"/><circle cx="536.19" cy="110.52" r="2.25" fill="#0000ff" stroke="#0000ff" stroke-width="0.9"/><circle cx="542.57" cy="117.61" r="2.25" fill="#0000ff" stroke="#0000ff" stroke-width="0.9"/><circle cx="547.96" cy="117.61" r="2.25" fill="#0000ff" stroke="#0000ff" stroke-width="0.9"/><circle cx="558.92" cy="117.61" r="2.25" fill="#0000ff" stroke="#0000ff" stroke-width="0.9"/><circle cx="571.14" cy="117.61" r="2.25" fill="#0000ff" stroke="#0000ff" stroke-width="0.9"/><circle cx="583.45" cy="117.61" r="2.25" fill="#0000ff" stroke="#0000ff" stroke-width="0.9"/><circle cx="601.77" cy="117.61" r="2.25" fill="#0000ff" stroke="#0000ff" stroke-width="0.9"/><circle cx="628.09" cy="117.61" r="2.25" fill="#0000ff" stroke="#0000ff" stroke-width="0.9"/><circle cx="644.86" cy="117.61" r="2.25" fill="#0000ff" stroke="#0000ff" stroke-width="0.9"/></g><g><path d="M532.71 89.24 L536.19 110.52 L542.57 110.52 L547.96 110.52 L558.92 110.52 L571.14 110.52 L583.45 110.52 L601.77 110.52 L628.09 110.52 L644.86 110.52" stroke="#8a2be2" stroke-width="1.25" fill="none" stroke-linejoin="round"/><path d="M529.91 89.24H535.51M532.71 86.44V92.04" stroke="#8a2be2" stroke-width="1.1" fill="none"/><path d="M533.39 110.52H538.99M536.19 107.72V113.32" stroke="#8a2be2" stroke-width="1.1" fill="none"/><path d="M539.77 110.52H545.37M542.57 107.72V113.32" stroke="#8a2be2" stroke-width="1.1" fill="none"/><path d="M545.16 110.52H550.76M547.96 107.72V113.32" stroke="#8a2be2" stroke-width="1.1" fill="none"/><path d="M556.12 110.52H561.72M558.92 107.72V113.32" stroke="#8a2be2" stroke-width="1.1" fill="none"/><path d="M568.34 110.52H573.94M571.14 107.72V113.32" stroke="#8a2be2" stroke-width="1.1" fill="none"/><path d="M580.65 110.52H586.25M583.45 107.72V113.32" stroke="#8a2be2" stroke-width="1.1" fill="none"/><path d="M598.97 110.52H604.57M601.77 107.72V113.32" stroke="#8a2be2" stroke-width="1.1" fill="none"/><path d="M625.29 110.52H630.89M628.09 107.72V113.32" stroke="#8a2be2" stroke-width="1.1" fill="none"/><path d="M642.06 110.52H647.66M644.86 107.72V113.32" stroke="#8a2be2" stroke-width="1.1" fill="none"/></g><g opacity="0.9"><path d="M532.71 95.98 L536.19 96.33 L542.57 96.48 L547.96 103.43 L558.92 103.43 L571.14 103.43 L583.45 103.43 L601.77 103.43 L628.09 103.43 L644.86 103.43" stroke="#ffc800" stroke-width="1.25" fill="none" stroke-linejoin="round"/><path d="M532.71 95.98V98.98M532.71 95.98L530.11 94.48M532.71 95.98L535.3 94.48" stroke="#ffc800" stroke-width="1.1" fill="none"/><path d="M536.19 96.33V99.33M536.19 96.33L533.59 94.83M536.19 96.33L538.79 94.83" stroke="#ffc800" stroke-width="1.1" fill="none"/><path d="M542.57 96.48V99.48M542.57 96.48L539.97 94.98M542.57 96.48L545.17 94.98" stroke="#ffc800" stroke-width="1.1" fill="none"/><path d="M547.96 103.43V106.43M547.96 103.43L545.36 101.93M547.96 103.43L550.56 101.93" stroke="#ffc800" stroke-width="1.1" fill="none"/><path d="M558.92 103.43V106.43M558.92 103.43L556.32 101.93M558.92 103.43L561.52 101.93" stroke="#ffc800" stroke-width="1.1" fill="none"/><path d="M571.14 103.43V106.43M571.14 103.43L568.54 101.93M571.14 103.43L573.74 101.93" stroke="#ffc800" stroke-width="1.1" fill="none"/><path d="M583.45 103.43V106.43M583.45 103.43L580.85 101.93M583.45 103.43L586.04 101.93" stroke="#ffc800" stroke-width="1.1" fill="none"/><path d="M601.77 103.43V106.43M601.77 103.43L599.17 101.93M601.77 103.43L604.37 101.93" stroke="#ffc800" stroke-width="1.1" fill="none"/><path d="M628.09 103.43V106.43M628.09 103.43L625.5 101.93M628.09 103.43L630.69 101.93" stroke="#ffc800" stroke-width="1.1" fill="none"/><path d="M644.86 103.43V106.43M644.86 103.43L642.26 101.93M644.86 103.43L647.46 101.93" stroke="#ffc800" stroke-width="1.1" fill="none"/></g></g><rect x="527.1" y="25.5" width="123.4" height="106.4" fill="none" stroke="#4a4a4a" stroke-width="1.1"/><path d="M531.88 131.9V134.9" stroke="#4a4a4a" stroke-width="0.9"/><text x="531.88" y="144.3" text-anchor="middle" font-size="9.2">0</text><path d="M567.81 131.9V134.9" stroke="#4a4a4a" stroke-width="0.9"/><text x="567.81" y="144.3" text-anchor="middle" font-size="9.2">2</text><path d="M603.75 131.9V134.9" stroke="#4a4a4a" stroke-width="0.9"/><text x="603.75" y="144.3" text-anchor="middle" font-size="9.2">4</text><path d="M639.68 131.9V134.9" stroke="#4a4a4a" stroke-width="0.9"/><text x="639.68" y="144.3" text-anchor="middle" font-size="9.2">6</text><path d="M527.1 131.8H524.5" stroke="#4a4a4a" stroke-width="0.9"/><text x="522.2" y="135" text-anchor="end" font-size="9.2">0</text><path d="M527.1 96.33H524.5" stroke="#4a4a4a" stroke-width="0.9"/><text x="522.2" y="99.53" text-anchor="end" font-size="9.2">5</text><path d="M527.1 60.87H524.5" stroke="#4a4a4a" stroke-width="0.9"/><text x="522.2" y="64.07" text-anchor="end" font-size="9.2" textLength="9" lengthAdjust="spacingAndGlyphs">10</text><path d="M527.1 25.4H524.5" stroke="#4a4a4a" stroke-width="0.9"/><text x="522.2" y="28.6" text-anchor="end" font-size="9.2" textLength="9" lengthAdjust="spacingAndGlyphs">15</text><text x="588.8" y="155" text-anchor="middle" font-size="9.3" textLength="77.6" lengthAdjust="spacingAndGlyphs">signal-to-noise ratio</text><text transform="translate(508.1 78.7) rotate(-90)" text-anchor="middle" font-size="9.5" textLength="17" lengthAdjust="spacingAndGlyphs">rank</text><text x="562.7" y="19.2" text-anchor="middle" font-size="12" font-style="italic">h</text><text x="568" y="20.8" text-anchor="middle" font-size="7.8">3</text><path d="M574.1 15.05H581.9M574.1 17.9H581.9" stroke="#3a3a3a" stroke-width="0.95" fill="none"/><text x="589.5" y="19.2" text-anchor="middle" font-size="12" font-style="italic">x</text><text x="594.2" y="20.8" text-anchor="middle" font-size="7.8">3</text><text x="599.2" y="19.2" text-anchor="middle" font-size="12" font-style="italic">e</text><text x="605.6" y="13.8" text-anchor="middle" font-size="7.8">−</text><text x="612.2" y="13.4" text-anchor="middle" font-size="7.8" font-style="italic">x</text><text x="616.4" y="15.4" text-anchor="middle" font-size="5.8">4</text><g><g><path d="M39.13 287.7 L42.64 287.7 L49.05 287.7 L54.46 287.7 L65.47 287.7 L77.75 287.7 L90.12 287.7 L108.54 287.7 L134.99 287.7 L151.83 287.7" stroke="#ff0000" stroke-width="1.25" fill="none" stroke-linejoin="round"/><polygon points="39.13,284.95 39.81,286.77 41.75,286.85 40.23,288.06 40.75,289.92 39.13,288.85 37.52,289.92 38.03,288.06 36.52,286.85 38.45,286.77" fill="#ff0000" stroke="#ff0000" stroke-width="0.9" stroke-linejoin="miter"/><polygon points="42.64,284.95 43.31,286.77 45.25,286.85 43.73,288.06 44.25,289.92 42.64,288.85 41.02,289.92 41.54,288.06 40.02,286.85 41.96,286.77" fill="#ff0000" stroke="#ff0000" stroke-width="0.9" stroke-linejoin="miter"/><polygon points="49.05,284.95 49.72,286.77 51.66,286.85 50.14,288.06 50.66,289.92 49.05,288.85 47.43,289.92 47.95,288.06 46.43,286.85 48.37,286.77" fill="#ff0000" stroke="#ff0000" stroke-width="0.9" stroke-linejoin="miter"/><polygon points="54.46,284.95 55.14,286.77 57.08,286.85 55.56,288.06 56.08,289.92 54.46,288.85 52.85,289.92 53.36,288.06 51.85,286.85 53.78,286.77" fill="#ff0000" stroke="#ff0000" stroke-width="0.9" stroke-linejoin="miter"/><polygon points="65.47,284.95 66.15,286.77 68.09,286.85 66.57,288.06 67.09,289.92 65.47,288.85 63.86,289.92 64.38,288.06 62.86,286.85 64.8,286.77" fill="#ff0000" stroke="#ff0000" stroke-width="0.9" stroke-linejoin="miter"/><polygon points="77.75,284.95 78.43,286.77 80.37,286.85 78.85,288.06 79.37,289.92 77.75,288.85 76.14,289.92 76.65,288.06 75.14,286.85 77.07,286.77" fill="#ff0000" stroke="#ff0000" stroke-width="0.9" stroke-linejoin="miter"/><polygon points="90.12,284.95 90.8,286.77 92.74,286.85 91.22,288.06 91.74,289.92 90.12,288.85 88.5,289.92 89.02,288.06 87.5,286.85 89.44,286.77" fill="#ff0000" stroke="#ff0000" stroke-width="0.9" stroke-linejoin="miter"/><polygon points="108.54,284.95 109.21,286.77 111.15,286.85 109.63,288.06 110.15,289.92 108.54,288.85 106.92,289.92 107.44,288.06 105.92,286.85 107.86,286.77" fill="#ff0000" stroke="#ff0000" stroke-width="0.9" stroke-linejoin="miter"/><polygon points="134.99,284.95 135.66,286.77 137.6,286.85 136.08,288.06 136.6,289.92 134.99,288.85 133.37,289.92 133.89,288.06 132.37,286.85 134.31,286.77" fill="#ff0000" stroke="#ff0000" stroke-width="0.9" stroke-linejoin="miter"/><polygon points="151.83,284.95 152.51,286.77 154.45,286.85 152.93,288.06 153.45,289.92 151.83,288.85 150.21,289.92 150.73,288.06 149.22,286.85 151.15,286.77" fill="#ff0000" stroke="#ff0000" stroke-width="0.9" stroke-linejoin="miter"/></g><g><path d="M39.13 190.48 L42.64 204.87 L49.05 190.48 L54.46 237.6 L65.47 227.44 L77.75 217.76 L90.12 252.24 L108.54 248.02 L134.99 192.96 L151.83 203.13" stroke="#008000" stroke-width="1.25" fill="none" stroke-linejoin="round"/><path d="M36.58 187.93H41.68L39.13 193.03Z" fill="#008000" stroke="#008000" stroke-width="0.9" stroke-linejoin="miter"/><path d="M40.09 202.32H45.19L42.64 207.42Z" fill="#008000" stroke="#008000" stroke-width="0.9" stroke-linejoin="miter"/><path d="M46.5 187.93H51.6L49.05 193.03Z" fill="#008000" stroke="#008000" stroke-width="0.9" stroke-linejoin="miter"/><path d="M51.91 235.05H57.01L54.46 240.15Z" fill="#008000" stroke="#008000" stroke-width="0.9" stroke-linejoin="miter"/><path d="M62.92 224.89H68.02L65.47 229.99Z" fill="#008000" stroke="#008000" stroke-width="0.9" stroke-linejoin="miter"/><path d="M75.2 215.21H80.3L77.75 220.31Z" fill="#008000" stroke="#008000" stroke-width="0.9" stroke-linejoin="miter"/><path d="M87.57 249.69H92.67L90.12 254.79Z" fill="#008000" stroke="#008000" stroke-width="0.9" stroke-linejoin="miter"/><path d="M105.99 245.47H111.09L108.54 250.57Z" fill="#008000" stroke="#008000" stroke-width="0.9" stroke-linejoin="miter"/><path d="M132.44 190.41H137.54L134.99 195.51Z" fill="#008000" stroke="#008000" stroke-width="0.9" stroke-linejoin="miter"/><path d="M149.28 200.58H154.38L151.83 205.68Z" fill="#008000" stroke="#008000" stroke-width="0.9" stroke-linejoin="miter"/></g><g><path d="M39.13 262.9 L42.64 287.7 L49.05 287.7 L54.46 287.7 L65.47 287.7 L77.75 287.7 L90.12 287.7 L108.54 287.7 L134.99 287.7 L151.83 287.7" stroke="#0000ff" stroke-width="1.25" fill="none" stroke-linejoin="round"/><circle cx="39.13" cy="262.9" r="2.25" fill="#0000ff" stroke="#0000ff" stroke-width="0.9"/><circle cx="42.64" cy="287.7" r="2.25" fill="#0000ff" stroke="#0000ff" stroke-width="0.9"/><circle cx="49.05" cy="287.7" r="2.25" fill="#0000ff" stroke="#0000ff" stroke-width="0.9"/><circle cx="54.46" cy="287.7" r="2.25" fill="#0000ff" stroke="#0000ff" stroke-width="0.9"/><circle cx="65.47" cy="287.7" r="2.25" fill="#0000ff" stroke="#0000ff" stroke-width="0.9"/><circle cx="77.75" cy="287.7" r="2.25" fill="#0000ff" stroke="#0000ff" stroke-width="0.9"/><circle cx="90.12" cy="287.7" r="2.25" fill="#0000ff" stroke="#0000ff" stroke-width="0.9"/><circle cx="108.54" cy="287.7" r="2.25" fill="#0000ff" stroke="#0000ff" stroke-width="0.9"/><circle cx="134.99" cy="287.7" r="2.25" fill="#0000ff" stroke="#0000ff" stroke-width="0.9"/><circle cx="151.83" cy="287.7" r="2.25" fill="#0000ff" stroke="#0000ff" stroke-width="0.9"/></g><g><path d="M39.13 262.9 L42.64 262.9 L49.05 262.9 L54.46 262.9 L65.47 262.9 L77.75 262.9 L90.12 262.9 L108.54 262.9 L134.99 262.9 L151.83 262.9" stroke="#8a2be2" stroke-width="1.25" fill="none" stroke-linejoin="round"/><path d="M36.33 262.9H41.93M39.13 260.1V265.7" stroke="#8a2be2" stroke-width="1.1" fill="none"/><path d="M39.84 262.9H45.44M42.64 260.1V265.7" stroke="#8a2be2" stroke-width="1.1" fill="none"/><path d="M46.25 262.9H51.85M49.05 260.1V265.7" stroke="#8a2be2" stroke-width="1.1" fill="none"/><path d="M51.66 262.9H57.26M54.46 260.1V265.7" stroke="#8a2be2" stroke-width="1.1" fill="none"/><path d="M62.67 262.9H68.27M65.47 260.1V265.7" stroke="#8a2be2" stroke-width="1.1" fill="none"/><path d="M74.95 262.9H80.55M77.75 260.1V265.7" stroke="#8a2be2" stroke-width="1.1" fill="none"/><path d="M87.32 262.9H92.92M90.12 260.1V265.7" stroke="#8a2be2" stroke-width="1.1" fill="none"/><path d="M105.74 262.9H111.34M108.54 260.1V265.7" stroke="#8a2be2" stroke-width="1.1" fill="none"/><path d="M132.19 262.9H137.79M134.99 260.1V265.7" stroke="#8a2be2" stroke-width="1.1" fill="none"/><path d="M149.03 262.9H154.63M151.83 260.1V265.7" stroke="#8a2be2" stroke-width="1.1" fill="none"/></g><g opacity="0.9"><path d="M39.13 287.7 L42.64 287.7 L49.05 287.7 L54.46 287.7 L65.47 287.7 L77.75 287.7 L90.12 287.7 L108.54 287.7 L134.99 287.7 L151.83 287.7" stroke="#ffc800" stroke-width="1.25" fill="none" stroke-linejoin="round"/><path d="M39.13 287.7V290.7M39.13 287.7L36.54 286.2M39.13 287.7L41.73 286.2" stroke="#ffc800" stroke-width="1.1" fill="none"/><path d="M42.64 287.7V290.7M42.64 287.7L40.04 286.2M42.64 287.7L45.23 286.2" stroke="#ffc800" stroke-width="1.1" fill="none"/><path d="M49.05 287.7V290.7M49.05 287.7L46.45 286.2M49.05 287.7L51.64 286.2" stroke="#ffc800" stroke-width="1.1" fill="none"/><path d="M54.46 287.7V290.7M54.46 287.7L51.86 286.2M54.46 287.7L57.06 286.2" stroke="#ffc800" stroke-width="1.1" fill="none"/><path d="M65.47 287.7V290.7M65.47 287.7L62.88 286.2M65.47 287.7L68.07 286.2" stroke="#ffc800" stroke-width="1.1" fill="none"/><path d="M77.75 287.7V290.7M77.75 287.7L75.15 286.2M77.75 287.7L80.35 286.2" stroke="#ffc800" stroke-width="1.1" fill="none"/><path d="M90.12 287.7V290.7M90.12 287.7L87.52 286.2M90.12 287.7L92.72 286.2" stroke="#ffc800" stroke-width="1.1" fill="none"/><path d="M108.54 287.7V290.7M108.54 287.7L105.94 286.2M108.54 287.7L111.13 286.2" stroke="#ffc800" stroke-width="1.1" fill="none"/><path d="M134.99 287.7V290.7M134.99 287.7L132.39 286.2M134.99 287.7L137.58 286.2" stroke="#ffc800" stroke-width="1.1" fill="none"/><path d="M151.83 287.7V290.7M151.83 287.7L149.23 286.2M151.83 287.7L154.43 286.2" stroke="#ffc800" stroke-width="1.1" fill="none"/></g></g><rect x="33.5" y="186.5" width="124" height="105.9" fill="none" stroke="#4a4a4a" stroke-width="1.1"/><path d="M38.3 292.4V295.4" stroke="#4a4a4a" stroke-width="0.9"/><text x="38.3" y="304.8" text-anchor="middle" font-size="9.2">0</text><path d="M74.41 292.4V295.4" stroke="#4a4a4a" stroke-width="0.9"/><text x="74.41" y="304.8" text-anchor="middle" font-size="9.2">2</text><path d="M110.52 292.4V295.4" stroke="#4a4a4a" stroke-width="0.9"/><text x="110.52" y="304.8" text-anchor="middle" font-size="9.2">4</text><path d="M146.63 292.4V295.4" stroke="#4a4a4a" stroke-width="0.9"/><text x="146.63" y="304.8" text-anchor="middle" font-size="9.2">6</text><path d="M33.5 287.7H30.9" stroke="#4a4a4a" stroke-width="0.9"/><text x="28.6" y="290.9" text-anchor="end" font-size="9.2">1</text><path d="M33.5 262.9H30.9" stroke="#4a4a4a" stroke-width="0.9"/><text x="28.6" y="266.1" text-anchor="end" font-size="9.2">2</text><path d="M33.5 238.1H30.9" stroke="#4a4a4a" stroke-width="0.9"/><text x="28.6" y="241.3" text-anchor="end" font-size="9.2">3</text><path d="M33.5 213.3H30.9" stroke="#4a4a4a" stroke-width="0.9"/><text x="28.6" y="216.5" text-anchor="end" font-size="9.2">4</text><path d="M33.5 188.5H30.9" stroke="#4a4a4a" stroke-width="0.9"/><text x="28.6" y="191.7" text-anchor="end" font-size="9.2">5</text><text x="95.5" y="315.5" text-anchor="middle" font-size="9.3" textLength="77.6" lengthAdjust="spacingAndGlyphs">signal-to-noise ratio</text><text transform="translate(19.3 239.45) rotate(-90)" text-anchor="middle" font-size="9.5" textLength="17" lengthAdjust="spacingAndGlyphs">rank</text><text x="56" y="178.8" text-anchor="middle" font-size="12" font-style="italic">h</text><text x="61" y="180.6" text-anchor="middle" font-size="7.8">7</text><path d="M67.7 174.65H75.5M67.7 177.5H75.5" stroke="#3a3a3a" stroke-width="0.95" fill="none"/><text x="90.2" y="178.8" text-anchor="middle" font-size="12" textLength="19.6" lengthAdjust="spacingAndGlyphs">max</text><text x="102.2" y="179.4" text-anchor="middle" font-size="13.4">(</text><text x="107.9" y="178.8" text-anchor="middle" font-size="12" font-style="italic">x</text><text x="113.7" y="180.6" text-anchor="middle" font-size="7.8">7</text><text x="117.9" y="178.8" text-anchor="middle" font-size="12">,</text><text x="125" y="178.8" text-anchor="middle" font-size="12" font-style="italic">x</text><text x="130.6" y="180.6" text-anchor="middle" font-size="7.8">8</text><text x="135.5" y="179.4" text-anchor="middle" font-size="13.4">)</text><g><g><path d="M204.09 283.99 L207.57 283.99 L213.93 283.99 L219.31 282.82 L230.24 281.41 L242.43 280.98 L254.71 282.7 L272.99 280.98 L299.25 281.41 L315.97 281.41" stroke="#ff0000" stroke-width="1.25" fill="none" stroke-linejoin="round"/><polygon points="204.09,281.24 204.77,283.06 206.71,283.14 205.19,284.35 205.71,286.21 204.09,285.14 202.48,286.21 202.99,284.35 201.48,283.14 203.41,283.06" fill="#ff0000" stroke="#ff0000" stroke-width="0.9" stroke-linejoin="miter"/><polygon points="207.57,281.24 208.25,283.06 210.18,283.14 208.67,284.35 209.19,286.21 207.57,285.14 205.95,286.21 206.47,284.35 204.95,283.14 206.89,283.06" fill="#ff0000" stroke="#ff0000" stroke-width="0.9" stroke-linejoin="miter"/><polygon points="213.93,281.24 214.61,283.06 216.55,283.14 215.03,284.35 215.55,286.21 213.93,285.14 212.32,286.21 212.83,284.35 211.32,283.14 213.25,283.06" fill="#ff0000" stroke="#ff0000" stroke-width="0.9" stroke-linejoin="miter"/><polygon points="219.31,280.07 219.99,281.88 221.92,281.97 220.41,283.18 220.93,285.04 219.31,283.97 217.69,285.04 218.21,283.18 216.69,281.97 218.63,281.88" fill="#ff0000" stroke="#ff0000" stroke-width="0.9" stroke-linejoin="miter"/><polygon points="230.24,278.66 230.92,280.48 232.86,280.56 231.34,281.77 231.86,283.64 230.24,282.57 228.63,283.64 229.14,281.77 227.63,280.56 229.56,280.48" fill="#ff0000" stroke="#ff0000" stroke-width="0.9" stroke-linejoin="miter"/><polygon points="242.43,278.23 243.11,280.05 245.05,280.13 243.53,281.34 244.05,283.21 242.43,282.14 240.81,283.21 241.33,281.34 239.82,280.13 241.75,280.05" fill="#ff0000" stroke="#ff0000" stroke-width="0.9" stroke-linejoin="miter"/><polygon points="254.71,279.95 255.39,281.77 257.32,281.85 255.81,283.06 256.33,284.93 254.71,283.86 253.09,284.93 253.61,283.06 252.09,281.85 254.03,281.77" fill="#ff0000" stroke="#ff0000" stroke-width="0.9" stroke-linejoin="miter"/><polygon points="272.99,278.23 273.67,280.05 275.61,280.13 274.09,281.34 274.61,283.21 272.99,282.14 271.37,283.21 271.89,281.34 270.38,280.13 272.31,280.05" fill="#ff0000" stroke="#ff0000" stroke-width="0.9" stroke-linejoin="miter"/><polygon points="299.25,278.66 299.93,280.48 301.86,280.56 300.35,281.77 300.87,283.64 299.25,282.57 297.63,283.64 298.15,281.77 296.63,280.56 298.57,280.48" fill="#ff0000" stroke="#ff0000" stroke-width="0.9" stroke-linejoin="miter"/><polygon points="315.97,278.66 316.65,280.48 318.59,280.56 317.07,281.77 317.59,283.64 315.97,282.57 314.36,283.64 314.87,281.77 313.36,280.56 315.29,280.48" fill="#ff0000" stroke="#ff0000" stroke-width="0.9" stroke-linejoin="miter"/></g><g><path d="M204.09 222.41 L207.57 203.16 L213.93 193.39 L219.31 194.17 L230.24 196.71 L242.43 190.66 L254.71 201.98 L272.99 201.01 L299.25 205.69 L315.97 206.48" stroke="#008000" stroke-width="1.25" fill="none" stroke-linejoin="round"/><path d="M201.54 219.86H206.64L204.09 224.96Z" fill="#008000" stroke="#008000" stroke-width="0.9" stroke-linejoin="miter"/><path d="M205.02 200.61H210.12L207.57 205.71Z" fill="#008000" stroke="#008000" stroke-width="0.9" stroke-linejoin="miter"/><path d="M211.38 190.84H216.48L213.93 195.94Z" fill="#008000" stroke="#008000" stroke-width="0.9" stroke-linejoin="miter"/><path d="M216.76 191.62H221.86L219.31 196.72Z" fill="#008000" stroke="#008000" stroke-width="0.9" stroke-linejoin="miter"/><path d="M227.69 194.16H232.79L230.24 199.26Z" fill="#008000" stroke="#008000" stroke-width="0.9" stroke-linejoin="miter"/><path d="M239.88 188.11H244.98L242.43 193.21Z" fill="#008000" stroke="#008000" stroke-width="0.9" stroke-linejoin="miter"/><path d="M252.16 199.43H257.26L254.71 204.53Z" fill="#008000" stroke="#008000" stroke-width="0.9" stroke-linejoin="miter"/><path d="M270.44 198.46H275.54L272.99 203.56Z" fill="#008000" stroke="#008000" stroke-width="0.9" stroke-linejoin="miter"/><path d="M296.7 203.14H301.8L299.25 208.24Z" fill="#008000" stroke="#008000" stroke-width="0.9" stroke-linejoin="miter"/><path d="M313.42 203.93H318.52L315.97 209.03Z" fill="#008000" stroke="#008000" stroke-width="0.9" stroke-linejoin="miter"/></g><g><path d="M204.09 225.41 L207.57 252.75 L213.93 260.17 L219.31 252.75 L230.24 252.75 L242.43 252.75 L254.71 252.75 L272.99 249.12 L299.25 252.75 L315.97 252.75" stroke="#0000ff" stroke-width="1.25" fill="none" stroke-linejoin="round"/><circle cx="204.09" cy="225.41" r="2.25" fill="#0000ff" stroke="#0000ff" stroke-width="0.9"/><circle cx="207.57" cy="252.75" r="2.25" fill="#0000ff" stroke="#0000ff" stroke-width="0.9"/><circle cx="213.93" cy="260.17" r="2.25" fill="#0000ff" stroke="#0000ff" stroke-width="0.9"/><circle cx="219.31" cy="252.75" r="2.25" fill="#0000ff" stroke="#0000ff" stroke-width="0.9"/><circle cx="230.24" cy="252.75" r="2.25" fill="#0000ff" stroke="#0000ff" stroke-width="0.9"/><circle cx="242.43" cy="252.75" r="2.25" fill="#0000ff" stroke="#0000ff" stroke-width="0.9"/><circle cx="254.71" cy="252.75" r="2.25" fill="#0000ff" stroke="#0000ff" stroke-width="0.9"/><circle cx="272.99" cy="249.12" r="2.25" fill="#0000ff" stroke="#0000ff" stroke-width="0.9"/><circle cx="299.25" cy="252.75" r="2.25" fill="#0000ff" stroke="#0000ff" stroke-width="0.9"/><circle cx="315.97" cy="252.75" r="2.25" fill="#0000ff" stroke="#0000ff" stroke-width="0.9"/></g><g><path d="M204.09 287.89 L207.57 287.89 L213.93 287.89 L219.31 287.89 L230.24 287.89 L242.43 287.89 L254.71 287.89 L272.99 287.89 L299.25 287.89 L315.97 287.89" stroke="#8a2be2" stroke-width="1.25" fill="none" stroke-linejoin="round"/><path d="M201.29 287.89H206.89M204.09 285.09V290.69" stroke="#8a2be2" stroke-width="1.1" fill="none"/><path d="M204.77 287.89H210.37M207.57 285.09V290.69" stroke="#8a2be2" stroke-width="1.1" fill="none"/><path d="M211.13 287.89H216.73M213.93 285.09V290.69" stroke="#8a2be2" stroke-width="1.1" fill="none"/><path d="M216.51 287.89H222.11M219.31 285.09V290.69" stroke="#8a2be2" stroke-width="1.1" fill="none"/><path d="M227.44 287.89H233.04M230.24 285.09V290.69" stroke="#8a2be2" stroke-width="1.1" fill="none"/><path d="M239.63 287.89H245.23M242.43 285.09V290.69" stroke="#8a2be2" stroke-width="1.1" fill="none"/><path d="M251.91 287.89H257.51M254.71 285.09V290.69" stroke="#8a2be2" stroke-width="1.1" fill="none"/><path d="M270.19 287.89H275.79M272.99 285.09V290.69" stroke="#8a2be2" stroke-width="1.1" fill="none"/><path d="M296.45 287.89H302.05M299.25 285.09V290.69" stroke="#8a2be2" stroke-width="1.1" fill="none"/><path d="M313.17 287.89H318.77M315.97 285.09V290.69" stroke="#8a2be2" stroke-width="1.1" fill="none"/></g><g opacity="0.9"><path d="M204.09 283.99 L207.57 283.99 L213.93 283.99 L219.31 283.99 L230.24 283.99 L242.43 283.99 L254.71 283.99 L272.99 283.99 L299.25 283.99 L315.97 283.99" stroke="#ffc800" stroke-width="1.25" fill="none" stroke-linejoin="round"/><path d="M204.09 283.99V286.99M204.09 283.99L201.49 282.49M204.09 283.99L206.69 282.49" stroke="#ffc800" stroke-width="1.1" fill="none"/><path d="M207.57 283.99V286.99M207.57 283.99L204.97 282.49M207.57 283.99L210.17 282.49" stroke="#ffc800" stroke-width="1.1" fill="none"/><path d="M213.93 283.99V286.99M213.93 283.99L211.33 282.49M213.93 283.99L216.53 282.49" stroke="#ffc800" stroke-width="1.1" fill="none"/><path d="M219.31 283.99V286.99M219.31 283.99L216.71 282.49M219.31 283.99L221.91 282.49" stroke="#ffc800" stroke-width="1.1" fill="none"/><path d="M230.24 283.99V286.99M230.24 283.99L227.64 282.49M230.24 283.99L232.84 282.49" stroke="#ffc800" stroke-width="1.1" fill="none"/><path d="M242.43 283.99V286.99M242.43 283.99L239.83 282.49M242.43 283.99L245.03 282.49" stroke="#ffc800" stroke-width="1.1" fill="none"/><path d="M254.71 283.99V286.99M254.71 283.99L252.11 282.49M254.71 283.99L257.31 282.49" stroke="#ffc800" stroke-width="1.1" fill="none"/><path d="M272.99 283.99V286.99M272.99 283.99L270.39 282.49M272.99 283.99L275.59 282.49" stroke="#ffc800" stroke-width="1.1" fill="none"/><path d="M299.25 283.99V286.99M299.25 283.99L296.65 282.49M299.25 283.99L301.85 282.49" stroke="#ffc800" stroke-width="1.1" fill="none"/><path d="M315.97 283.99V286.99M315.97 283.99L313.37 282.49M315.97 283.99L318.57 282.49" stroke="#ffc800" stroke-width="1.1" fill="none"/></g></g><rect x="198.5" y="186.5" width="123.1" height="105.9" fill="none" stroke="#4a4a4a" stroke-width="1.1"/><path d="M203.27 292.4V295.4" stroke="#4a4a4a" stroke-width="0.9"/><text x="203.27" y="304.8" text-anchor="middle" font-size="9.2">0</text><path d="M239.12 292.4V295.4" stroke="#4a4a4a" stroke-width="0.9"/><text x="239.12" y="304.8" text-anchor="middle" font-size="9.2">2</text><path d="M274.96 292.4V295.4" stroke="#4a4a4a" stroke-width="0.9"/><text x="274.96" y="304.8" text-anchor="middle" font-size="9.2">4</text><path d="M310.81 292.4V295.4" stroke="#4a4a4a" stroke-width="0.9"/><text x="310.81" y="304.8" text-anchor="middle" font-size="9.2">6</text><path d="M198.5 291.8H195.9" stroke="#4a4a4a" stroke-width="0.9"/><text x="193.6" y="295" text-anchor="end" font-size="9.2">0</text><path d="M198.5 252.75H195.9" stroke="#4a4a4a" stroke-width="0.9"/><text x="193.6" y="255.95" text-anchor="end" font-size="9.2" textLength="9" lengthAdjust="spacingAndGlyphs">10</text><path d="M198.5 213.7H195.9" stroke="#4a4a4a" stroke-width="0.9"/><text x="193.6" y="216.9" text-anchor="end" font-size="9.2" textLength="9" lengthAdjust="spacingAndGlyphs">20</text><text x="260.05" y="315.5" text-anchor="middle" font-size="9.3" textLength="77.6" lengthAdjust="spacingAndGlyphs">signal-to-noise ratio</text><text transform="translate(179.5 239.45) rotate(-90)" text-anchor="middle" font-size="9.5" textLength="17" lengthAdjust="spacingAndGlyphs">rank</text><text x="238.4" y="179.9" text-anchor="middle" font-size="12" font-style="italic">h</text><text x="243.8" y="181.8" text-anchor="middle" font-size="7.8">1</text><path d="M249.8 175.75H257.6M249.8 178.6H257.6" stroke="#3a3a3a" stroke-width="0.95" fill="none"/><text x="266.1" y="179.9" text-anchor="middle" font-size="12" font-style="italic">x</text><text x="271.3" y="181.8" text-anchor="middle" font-size="7.8">1</text><text x="276.9" y="179.9" text-anchor="middle" font-size="12" font-style="italic">x</text><text x="282.3" y="181.8" text-anchor="middle" font-size="7.8">2</text><g><g><path d="M368.13 205.13 L371.64 282.18 L378.05 279.82 L383.46 278.3 L394.47 278.07 L406.75 277.68 L419.12 277.3 L437.54 276.99 L463.99 276.99 L480.83 276.29" stroke="#ff0000" stroke-width="1.25" fill="none" stroke-linejoin="round"/><polygon points="368.13,202.38 368.81,204.19 370.75,204.28 369.23,205.48 369.75,207.35 368.13,206.28 366.52,207.35 367.03,205.48 365.52,204.28 367.45,204.19" fill="#ff0000" stroke="#ff0000" stroke-width="0.9" stroke-linejoin="miter"/><polygon points="371.64,279.43 372.31,281.25 374.25,281.34 372.73,282.54 373.25,284.41 371.64,283.34 370.02,284.41 370.54,282.54 369.02,281.34 370.96,281.25" fill="#ff0000" stroke="#ff0000" stroke-width="0.9" stroke-linejoin="miter"/><polygon points="378.05,277.07 378.72,278.88 380.66,278.97 379.14,280.17 379.66,282.04 378.05,280.97 376.43,282.04 376.95,280.17 375.43,278.97 377.37,278.88" fill="#ff0000" stroke="#ff0000" stroke-width="0.9" stroke-linejoin="miter"/><polygon points="383.46,275.55 384.14,277.37 386.08,277.46 384.56,278.66 385.08,280.53 383.46,279.46 381.85,280.53 382.36,278.66 380.85,277.46 382.78,277.37" fill="#ff0000" stroke="#ff0000" stroke-width="0.9" stroke-linejoin="miter"/><polygon points="394.47,275.32 395.15,277.14 397.09,277.22 395.57,278.43 396.09,280.3 394.47,279.23 392.86,280.3 393.38,278.43 391.86,277.22 393.8,277.14" fill="#ff0000" stroke="#ff0000" stroke-width="0.9" stroke-linejoin="miter"/><polygon points="406.75,274.93 407.43,276.75 409.37,276.83 407.85,278.04 408.37,279.91 406.75,278.84 405.14,279.91 405.65,278.04 404.14,276.83 406.07,276.75" fill="#ff0000" stroke="#ff0000" stroke-width="0.9" stroke-linejoin="miter"/><polygon points="419.12,274.55 419.8,276.36 421.74,276.45 420.22,277.65 420.74,279.52 419.12,278.45 417.5,279.52 418.02,277.65 416.5,276.45 418.44,276.36" fill="#ff0000" stroke="#ff0000" stroke-width="0.9" stroke-linejoin="miter"/><polygon points="437.54,274.24 438.21,276.05 440.15,276.14 438.63,277.34 439.15,279.21 437.54,278.14 435.92,279.21 436.44,277.34 434.92,276.14 436.86,276.05" fill="#ff0000" stroke="#ff0000" stroke-width="0.9" stroke-linejoin="miter"/><polygon points="463.99,274.24 464.66,276.05 466.6,276.14 465.08,277.34 465.6,279.21 463.99,278.14 462.37,279.21 462.89,277.34 461.37,276.14 463.31,276.05" fill="#ff0000" stroke="#ff0000" stroke-width="0.9" stroke-linejoin="miter"/><polygon points="480.83,273.54 481.51,275.35 483.45,275.44 481.93,276.64 482.45,278.51 480.83,277.44 479.21,278.51 479.73,276.64 478.22,275.44 480.15,275.35" fill="#ff0000" stroke="#ff0000" stroke-width="0.9" stroke-linejoin="miter"/></g><g><path d="M368.13 226.2 L371.64 237.33 L378.05 243.93 L383.46 251.3 L394.47 252.46 L406.75 267.79 L419.12 267.79 L437.54 277.3 L463.99 276.91 L480.83 288.35" stroke="#008000" stroke-width="1.25" fill="none" stroke-linejoin="round"/><path d="M365.58 223.65H370.68L368.13 228.75Z" fill="#008000" stroke="#008000" stroke-width="0.9" stroke-linejoin="miter"/><path d="M369.09 234.78H374.19L371.64 239.88Z" fill="#008000" stroke="#008000" stroke-width="0.9" stroke-linejoin="miter"/><path d="M375.5 241.38H380.6L378.05 246.48Z" fill="#008000" stroke="#008000" stroke-width="0.9" stroke-linejoin="miter"/><path d="M380.91 248.75H386.01L383.46 253.85Z" fill="#008000" stroke="#008000" stroke-width="0.9" stroke-linejoin="miter"/><path d="M391.92 249.91H397.02L394.47 255.01Z" fill="#008000" stroke="#008000" stroke-width="0.9" stroke-linejoin="miter"/><path d="M404.2 265.24H409.3L406.75 270.34Z" fill="#008000" stroke="#008000" stroke-width="0.9" stroke-linejoin="miter"/><path d="M416.57 265.24H421.67L419.12 270.34Z" fill="#008000" stroke="#008000" stroke-width="0.9" stroke-linejoin="miter"/><path d="M434.99 274.75H440.09L437.54 279.85Z" fill="#008000" stroke="#008000" stroke-width="0.9" stroke-linejoin="miter"/><path d="M461.44 274.36H466.54L463.99 279.46Z" fill="#008000" stroke="#008000" stroke-width="0.9" stroke-linejoin="miter"/><path d="M478.28 285.8H483.38L480.83 290.9Z" fill="#008000" stroke="#008000" stroke-width="0.9" stroke-linejoin="miter"/></g><g><path d="M368.13 210.17 L371.64 222.2 L378.05 249.36 L383.46 264.61 L394.47 276.13 L406.75 280.52 L419.12 284.09 L437.54 284.09 L463.99 284.09 L480.83 284.09" stroke="#0000ff" stroke-width="1.25" fill="none" stroke-linejoin="round"/><circle cx="368.13" cy="210.17" r="2.25" fill="#0000ff" stroke="#0000ff" stroke-width="0.9"/><circle cx="371.64" cy="222.2" r="2.25" fill="#0000ff" stroke="#0000ff" stroke-width="0.9"/><circle cx="378.05" cy="249.36" r="2.25" fill="#0000ff" stroke="#0000ff" stroke-width="0.9"/><circle cx="383.46" cy="264.61" r="2.25" fill="#0000ff" stroke="#0000ff" stroke-width="0.9"/><circle cx="394.47" cy="276.13" r="2.25" fill="#0000ff" stroke="#0000ff" stroke-width="0.9"/><circle cx="406.75" cy="280.52" r="2.25" fill="#0000ff" stroke="#0000ff" stroke-width="0.9"/><circle cx="419.12" cy="284.09" r="2.25" fill="#0000ff" stroke="#0000ff" stroke-width="0.9"/><circle cx="437.54" cy="284.09" r="2.25" fill="#0000ff" stroke="#0000ff" stroke-width="0.9"/><circle cx="463.99" cy="284.09" r="2.25" fill="#0000ff" stroke="#0000ff" stroke-width="0.9"/><circle cx="480.83" cy="284.09" r="2.25" fill="#0000ff" stroke="#0000ff" stroke-width="0.9"/></g><g><path d="M368.13 191.16 L371.64 265.27 L378.05 271.86 L383.46 272.21 L394.47 272.21 L406.75 272.21 L419.12 272.21 L437.54 272.21 L463.99 272.21 L480.83 272.21" stroke="#8a2be2" stroke-width="1.25" fill="none" stroke-linejoin="round"/><path d="M365.33 191.16H370.93M368.13 188.36V193.96" stroke="#8a2be2" stroke-width="1.1" fill="none"/><path d="M368.84 265.27H374.44M371.64 262.47V268.07" stroke="#8a2be2" stroke-width="1.1" fill="none"/><path d="M375.25 271.86H380.85M378.05 269.06V274.66" stroke="#8a2be2" stroke-width="1.1" fill="none"/><path d="M380.66 272.21H386.26M383.46 269.41V275.01" stroke="#8a2be2" stroke-width="1.1" fill="none"/><path d="M391.67 272.21H397.27M394.47 269.41V275.01" stroke="#8a2be2" stroke-width="1.1" fill="none"/><path d="M403.95 272.21H409.55M406.75 269.41V275.01" stroke="#8a2be2" stroke-width="1.1" fill="none"/><path d="M416.32 272.21H421.92M419.12 269.41V275.01" stroke="#8a2be2" stroke-width="1.1" fill="none"/><path d="M434.74 272.21H440.34M437.54 269.41V275.01" stroke="#8a2be2" stroke-width="1.1" fill="none"/><path d="M461.19 272.21H466.79M463.99 269.41V275.01" stroke="#8a2be2" stroke-width="1.1" fill="none"/><path d="M478.03 272.21H483.63M480.83 269.41V275.01" stroke="#8a2be2" stroke-width="1.1" fill="none"/></g><g opacity="0.9"><path d="M368.13 264.1 L371.64 271.28 L378.05 272.21 L383.46 272.21 L394.47 272.21 L406.75 272.21 L419.12 272.21 L437.54 272.21 L463.99 272.21 L480.83 272.21" stroke="#ffc800" stroke-width="1.25" fill="none" stroke-linejoin="round"/><path d="M368.13 264.1V267.1M368.13 264.1L365.54 262.6M368.13 264.1L370.73 262.6" stroke="#ffc800" stroke-width="1.1" fill="none"/><path d="M371.64 271.28V274.28M371.64 271.28L369.04 269.78M371.64 271.28L374.23 269.78" stroke="#ffc800" stroke-width="1.1" fill="none"/><path d="M378.05 272.21V275.21M378.05 272.21L375.45 270.71M378.05 272.21L380.64 270.71" stroke="#ffc800" stroke-width="1.1" fill="none"/><path d="M383.46 272.21V275.21M383.46 272.21L380.86 270.71M383.46 272.21L386.06 270.71" stroke="#ffc800" stroke-width="1.1" fill="none"/><path d="M394.47 272.21V275.21M394.47 272.21L391.88 270.71M394.47 272.21L397.07 270.71" stroke="#ffc800" stroke-width="1.1" fill="none"/><path d="M406.75 272.21V275.21M406.75 272.21L404.15 270.71M406.75 272.21L409.35 270.71" stroke="#ffc800" stroke-width="1.1" fill="none"/><path d="M419.12 272.21V275.21M419.12 272.21L416.52 270.71M419.12 272.21L421.72 270.71" stroke="#ffc800" stroke-width="1.1" fill="none"/><path d="M437.54 272.21V275.21M437.54 272.21L434.94 270.71M437.54 272.21L440.13 270.71" stroke="#ffc800" stroke-width="1.1" fill="none"/><path d="M463.99 272.21V275.21M463.99 272.21L461.39 270.71M463.99 272.21L466.58 270.71" stroke="#ffc800" stroke-width="1.1" fill="none"/><path d="M480.83 272.21V275.21M480.83 272.21L478.23 270.71M480.83 272.21L483.43 270.71" stroke="#ffc800" stroke-width="1.1" fill="none"/></g></g><rect x="362.5" y="186.5" width="124" height="105.9" fill="none" stroke="#4a4a4a" stroke-width="1.1"/><path d="M367.3 292.4V295.4" stroke="#4a4a4a" stroke-width="0.9"/><text x="367.3" y="304.8" text-anchor="middle" font-size="9.2">0</text><path d="M403.41 292.4V295.4" stroke="#4a4a4a" stroke-width="0.9"/><text x="403.41" y="304.8" text-anchor="middle" font-size="9.2">2</text><path d="M439.52 292.4V295.4" stroke="#4a4a4a" stroke-width="0.9"/><text x="439.52" y="304.8" text-anchor="middle" font-size="9.2">4</text><path d="M475.63 292.4V295.4" stroke="#4a4a4a" stroke-width="0.9"/><text x="475.63" y="304.8" text-anchor="middle" font-size="9.2">6</text><path d="M362.5 261H359.9" stroke="#4a4a4a" stroke-width="0.9"/><text x="357.6" y="264.2" text-anchor="end" font-size="9.2" textLength="9" lengthAdjust="spacingAndGlyphs">10</text><path d="M362.5 222.2H359.9" stroke="#4a4a4a" stroke-width="0.9"/><text x="357.6" y="225.4" text-anchor="end" font-size="9.2" textLength="9" lengthAdjust="spacingAndGlyphs">20</text><text x="424.5" y="315.5" text-anchor="middle" font-size="9.3" textLength="77.6" lengthAdjust="spacingAndGlyphs">signal-to-noise ratio</text><text transform="translate(343.5 239.45) rotate(-90)" text-anchor="middle" font-size="9.5" textLength="17" lengthAdjust="spacingAndGlyphs">rank</text><text x="400.3" y="179.6" text-anchor="middle" font-size="12" font-style="italic">h</text><text x="405.6" y="181.6" text-anchor="middle" font-size="7.8">5</text><path d="M411.8 175.45H419.6M411.8 178.3H419.6" stroke="#3a3a3a" stroke-width="0.95" fill="none"/><text x="428.1" y="179.6" text-anchor="middle" font-size="12" font-style="italic">x</text><text x="433.2" y="181.6" text-anchor="middle" font-size="7.8">5</text><text x="437.4" y="180.2" text-anchor="middle" font-size="13.4">/</text><text x="443.7" y="179.6" text-anchor="middle" font-size="12" font-style="italic">x</text><text x="449.8" y="181.6" text-anchor="middle" font-size="7.8">6</text><g><g><path d="M532.71 235.37 L536.19 265.72 L542.57 271.02 L547.96 269.14 L558.92 269.14 L571.14 269.83 L583.45 269.14 L601.77 269.83 L628.09 268.59 L644.86 271.02" stroke="#ff0000" stroke-width="1.25" fill="none" stroke-linejoin="round"/><polygon points="532.71,232.62 533.38,234.44 535.32,234.52 533.8,235.73 534.32,237.59 532.71,236.53 531.09,237.59 531.61,235.73 530.09,234.52 532.03,234.44" fill="#ff0000" stroke="#ff0000" stroke-width="0.9" stroke-linejoin="miter"/><polygon points="536.19,262.97 536.87,264.79 538.81,264.87 537.29,266.08 537.81,267.95 536.19,266.88 534.58,267.95 535.09,266.08 533.58,264.87 535.51,264.79" fill="#ff0000" stroke="#ff0000" stroke-width="0.9" stroke-linejoin="miter"/><polygon points="542.57,268.27 543.25,270.09 545.19,270.17 543.67,271.38 544.19,273.25 542.57,272.18 540.95,273.25 541.47,271.38 539.95,270.17 541.89,270.09" fill="#ff0000" stroke="#ff0000" stroke-width="0.9" stroke-linejoin="miter"/><polygon points="547.96,266.39 548.64,268.21 550.58,268.29 549.06,269.5 549.58,271.37 547.96,270.3 546.34,271.37 546.86,269.5 545.34,268.29 547.28,268.21" fill="#ff0000" stroke="#ff0000" stroke-width="0.9" stroke-linejoin="miter"/><polygon points="558.92,266.39 559.6,268.21 561.54,268.29 560.02,269.5 560.54,271.37 558.92,270.3 557.3,271.37 557.82,269.5 556.3,268.29 558.24,268.21" fill="#ff0000" stroke="#ff0000" stroke-width="0.9" stroke-linejoin="miter"/><polygon points="571.14,267.08 571.82,268.89 573.75,268.98 572.24,270.18 572.75,272.05 571.14,270.98 569.52,272.05 570.04,270.18 568.52,268.98 570.46,268.89" fill="#ff0000" stroke="#ff0000" stroke-width="0.9" stroke-linejoin="miter"/><polygon points="583.45,266.39 584.12,268.21 586.06,268.29 584.54,269.5 585.06,271.37 583.45,270.3 581.83,271.37 582.35,269.5 580.83,268.29 582.77,268.21" fill="#ff0000" stroke="#ff0000" stroke-width="0.9" stroke-linejoin="miter"/><polygon points="601.77,267.08 602.45,268.89 604.39,268.98 602.87,270.18 603.39,272.05 601.77,270.98 600.16,272.05 600.67,270.18 599.16,268.98 601.09,268.89" fill="#ff0000" stroke="#ff0000" stroke-width="0.9" stroke-linejoin="miter"/><polygon points="628.09,265.84 628.77,267.65 630.71,267.74 629.19,268.94 629.71,270.81 628.09,269.74 626.48,270.81 627,268.94 625.48,267.74 627.42,267.65" fill="#ff0000" stroke="#ff0000" stroke-width="0.9" stroke-linejoin="miter"/><polygon points="644.86,268.27 645.54,270.09 647.47,270.17 645.96,271.38 646.47,273.25 644.86,272.18 643.24,273.25 643.76,271.38 642.24,270.17 644.18,270.09" fill="#ff0000" stroke="#ff0000" stroke-width="0.9" stroke-linejoin="miter"/></g><g><path d="M532.71 191.34 L536.19 195.83 L542.57 207.16 L547.96 203.74 L558.92 217.84 L571.14 210.79 L583.45 220.83 L601.77 233.66 L628.09 243.49 L644.86 231.95" stroke="#008000" stroke-width="1.25" fill="none" stroke-linejoin="round"/><path d="M530.16 188.79H535.26L532.71 193.89Z" fill="#008000" stroke="#008000" stroke-width="0.9" stroke-linejoin="miter"/><path d="M533.64 193.28H538.74L536.19 198.38Z" fill="#008000" stroke="#008000" stroke-width="0.9" stroke-linejoin="miter"/><path d="M540.02 204.6H545.12L542.57 209.71Z" fill="#008000" stroke="#008000" stroke-width="0.9" stroke-linejoin="miter"/><path d="M545.41 201.19H550.51L547.96 206.29Z" fill="#008000" stroke="#008000" stroke-width="0.9" stroke-linejoin="miter"/><path d="M556.37 215.29H561.47L558.92 220.39Z" fill="#008000" stroke="#008000" stroke-width="0.9" stroke-linejoin="miter"/><path d="M568.59 208.24H573.69L571.14 213.34Z" fill="#008000" stroke="#008000" stroke-width="0.9" stroke-linejoin="miter"/><path d="M580.9 218.28H586L583.45 223.38Z" fill="#008000" stroke="#008000" stroke-width="0.9" stroke-linejoin="miter"/><path d="M599.22 231.11H604.32L601.77 236.21Z" fill="#008000" stroke="#008000" stroke-width="0.9" stroke-linejoin="miter"/><path d="M625.54 240.94H630.64L628.09 246.04Z" fill="#008000" stroke="#008000" stroke-width="0.9" stroke-linejoin="miter"/><path d="M642.31 229.4H647.41L644.86 234.5Z" fill="#008000" stroke="#008000" stroke-width="0.9" stroke-linejoin="miter"/></g><g><path d="M532.71 287.53 L536.19 283.25 L542.57 278.55 L547.96 278.55 L558.92 278.55 L571.14 278.55 L583.45 278.55 L601.77 278.55 L628.09 278.55 L644.86 278.55" stroke="#0000ff" stroke-width="1.25" fill="none" stroke-linejoin="round"/><circle cx="532.71" cy="287.53" r="2.25" fill="#0000ff" stroke="#0000ff" stroke-width="0.9"/><circle cx="536.19" cy="283.25" r="2.25" fill="#0000ff" stroke="#0000ff" stroke-width="0.9"/><circle cx="542.57" cy="278.55" r="2.25" fill="#0000ff" stroke="#0000ff" stroke-width="0.9"/><circle cx="547.96" cy="278.55" r="2.25" fill="#0000ff" stroke="#0000ff" stroke-width="0.9"/><circle cx="558.92" cy="278.55" r="2.25" fill="#0000ff" stroke="#0000ff" stroke-width="0.9"/><circle cx="571.14" cy="278.55" r="2.25" fill="#0000ff" stroke="#0000ff" stroke-width="0.9"/><circle cx="583.45" cy="278.55" r="2.25" fill="#0000ff" stroke="#0000ff" stroke-width="0.9"/><circle cx="601.77" cy="278.55" r="2.25" fill="#0000ff" stroke="#0000ff" stroke-width="0.9"/><circle cx="628.09" cy="278.55" r="2.25" fill="#0000ff" stroke="#0000ff" stroke-width="0.9"/><circle cx="644.86" cy="278.55" r="2.25" fill="#0000ff" stroke="#0000ff" stroke-width="0.9"/></g><g><path d="M532.71 193.48 L536.19 211 L542.57 219.98 L547.96 219.98 L558.92 219.98 L571.14 219.98 L583.45 224.04 L601.77 224.25 L628.09 224.25 L644.86 224.25" stroke="#8a2be2" stroke-width="1.25" fill="none" stroke-linejoin="round"/><path d="M529.91 193.48H535.51M532.71 190.68V196.28" stroke="#8a2be2" stroke-width="1.1" fill="none"/><path d="M533.39 211H538.99M536.19 208.2V213.8" stroke="#8a2be2" stroke-width="1.1" fill="none"/><path d="M539.77 219.98H545.37M542.57 217.18V222.78" stroke="#8a2be2" stroke-width="1.1" fill="none"/><path d="M545.16 219.98H550.76M547.96 217.18V222.78" stroke="#8a2be2" stroke-width="1.1" fill="none"/><path d="M556.12 219.98H561.72M558.92 217.18V222.78" stroke="#8a2be2" stroke-width="1.1" fill="none"/><path d="M568.34 219.98H573.94M571.14 217.18V222.78" stroke="#8a2be2" stroke-width="1.1" fill="none"/><path d="M580.65 224.04H586.25M583.45 221.24V226.84" stroke="#8a2be2" stroke-width="1.1" fill="none"/><path d="M598.97 224.25H604.57M601.77 221.45V227.06" stroke="#8a2be2" stroke-width="1.1" fill="none"/><path d="M625.29 224.25H630.89M628.09 221.45V227.06" stroke="#8a2be2" stroke-width="1.1" fill="none"/><path d="M642.06 224.25H647.66M644.86 221.45V227.06" stroke="#8a2be2" stroke-width="1.1" fill="none"/></g><g opacity="0.9"><path d="M532.71 279.27 L536.19 279.27 L542.57 279.27 L547.96 279.27 L558.92 279.27 L571.14 279.27 L583.45 279.27 L601.77 279.27 L628.09 279.27 L644.86 279.27" stroke="#ffc800" stroke-width="1.25" fill="none" stroke-linejoin="round"/><path d="M532.71 279.27V282.27M532.71 279.27L530.11 277.77M532.71 279.27L535.3 277.77" stroke="#ffc800" stroke-width="1.1" fill="none"/><path d="M536.19 279.27V282.27M536.19 279.27L533.59 277.77M536.19 279.27L538.79 277.77" stroke="#ffc800" stroke-width="1.1" fill="none"/><path d="M542.57 279.27V282.27M542.57 279.27L539.97 277.77M542.57 279.27L545.17 277.77" stroke="#ffc800" stroke-width="1.1" fill="none"/><path d="M547.96 279.27V282.27M547.96 279.27L545.36 277.77M547.96 279.27L550.56 277.77" stroke="#ffc800" stroke-width="1.1" fill="none"/><path d="M558.92 279.27V282.27M558.92 279.27L556.32 277.77M558.92 279.27L561.52 277.77" stroke="#ffc800" stroke-width="1.1" fill="none"/><path d="M571.14 279.27V282.27M571.14 279.27L568.54 277.77M571.14 279.27L573.74 277.77" stroke="#ffc800" stroke-width="1.1" fill="none"/><path d="M583.45 279.27V282.27M583.45 279.27L580.85 277.77M583.45 279.27L586.04 277.77" stroke="#ffc800" stroke-width="1.1" fill="none"/><path d="M601.77 279.27V282.27M601.77 279.27L599.17 277.77M601.77 279.27L604.37 277.77" stroke="#ffc800" stroke-width="1.1" fill="none"/><path d="M628.09 279.27V282.27M628.09 279.27L625.5 277.77M628.09 279.27L630.69 277.77" stroke="#ffc800" stroke-width="1.1" fill="none"/><path d="M644.86 279.27V282.27M644.86 279.27L642.26 277.77M644.86 279.27L647.46 277.77" stroke="#ffc800" stroke-width="1.1" fill="none"/></g></g><rect x="527.1" y="186.5" width="123.4" height="105.9" fill="none" stroke="#4a4a4a" stroke-width="1.1"/><path d="M531.88 292.4V295.4" stroke="#4a4a4a" stroke-width="0.9"/><text x="531.88" y="304.8" text-anchor="middle" font-size="9.2">0</text><path d="M567.81 292.4V295.4" stroke="#4a4a4a" stroke-width="0.9"/><text x="567.81" y="304.8" text-anchor="middle" font-size="9.2">2</text><path d="M603.75 292.4V295.4" stroke="#4a4a4a" stroke-width="0.9"/><text x="603.75" y="304.8" text-anchor="middle" font-size="9.2">4</text><path d="M639.68 292.4V295.4" stroke="#4a4a4a" stroke-width="0.9"/><text x="639.68" y="304.8" text-anchor="middle" font-size="9.2">6</text><path d="M527.1 291.8H524.5" stroke="#4a4a4a" stroke-width="0.9"/><text x="522.2" y="295" text-anchor="end" font-size="9.2">0</text><path d="M527.1 270.43H524.5" stroke="#4a4a4a" stroke-width="0.9"/><text x="522.2" y="273.62" text-anchor="end" font-size="9.2">5</text><path d="M527.1 249.05H524.5" stroke="#4a4a4a" stroke-width="0.9"/><text x="522.2" y="252.25" text-anchor="end" font-size="9.2" textLength="9" lengthAdjust="spacingAndGlyphs">10</text><path d="M527.1 227.68H524.5" stroke="#4a4a4a" stroke-width="0.9"/><text x="522.2" y="230.88" text-anchor="end" font-size="9.2" textLength="9" lengthAdjust="spacingAndGlyphs">15</text><path d="M527.1 206.3H524.5" stroke="#4a4a4a" stroke-width="0.9"/><text x="522.2" y="209.5" text-anchor="end" font-size="9.2" textLength="9" lengthAdjust="spacingAndGlyphs">20</text><text x="588.8" y="315.5" text-anchor="middle" font-size="9.3" textLength="77.6" lengthAdjust="spacingAndGlyphs">signal-to-noise ratio</text><text transform="translate(508.1 239.45) rotate(-90)" text-anchor="middle" font-size="9.5" textLength="17" lengthAdjust="spacingAndGlyphs">rank</text><text x="566" y="178.7" text-anchor="middle" font-size="12" font-style="italic">h</text><text x="571.7" y="180.6" text-anchor="middle" font-size="7.8">2</text><path d="M578 174.55H585.8M578 177.4H585.8" stroke="#3a3a3a" stroke-width="0.95" fill="none"/><text x="593.7" y="178.7" text-anchor="middle" font-size="12" font-style="italic">x</text><text x="599.1" y="174.4" text-anchor="middle" font-size="7.8">2</text><text x="599.1" y="181.3" text-anchor="middle" font-size="7.8">2</text><text x="604.5" y="178.7" text-anchor="middle" font-size="12" font-style="italic">e</text><text x="610.2" y="173.8" text-anchor="middle" font-size="7.8" font-style="italic">x</text><text x="613.9" y="175.6" text-anchor="middle" font-size="5.8">3</text><rect x="83" y="29.5" width="71" height="50.8" rx="1.6" fill="#fff" fill-opacity="0.8" stroke="#cfcfcf" stroke-width="0.9"/><path d="M85 35H100" stroke="#ff0000" stroke-width="1.25"/><polygon points="92.5,32.25 93.18,34.07 95.12,34.15 93.6,35.36 94.12,37.22 92.5,36.16 90.88,37.22 91.4,35.36 89.88,34.15 91.82,34.07" fill="#ff0000" stroke="#ff0000" stroke-width="0.9" stroke-linejoin="miter"/><text x="105" y="37.6" font-size="7.5">11-GEH (ours)</text><path d="M85 44.75H100" stroke="#008000" stroke-width="1.25"/><path d="M89.95 42.2H95.05L92.5 47.3Z" fill="#008000" stroke="#008000" stroke-width="0.9" stroke-linejoin="miter"/><text x="105" y="47.35" font-size="7.5">NID</text><path d="M85 54.5H100" stroke="#0000ff" stroke-width="1.25"/><circle cx="92.5" cy="54.5" r="2.25" fill="#0000ff" stroke="#0000ff" stroke-width="0.9"/><text x="105" y="57.1" font-size="7.5">SHAP</text><path d="M85 64.25H100" stroke="#8a2be2" stroke-width="1.25"/><path d="M89.7 64.25H95.3M92.5 61.45V67.05" stroke="#8a2be2" stroke-width="1.1" fill="none"/><text x="105" y="66.85" font-size="7.5">Lasso</text><path d="M85 74H100" stroke="#ffc800" stroke-width="1.25"/><path d="M92.5 74V77M92.5 74L89.9 72.5M92.5 74L95.1 72.5" stroke="#ffc800" stroke-width="1.1" fill="none"/><text x="105" y="76.6" font-size="7.5">Oracle</text></svg></body></html>
